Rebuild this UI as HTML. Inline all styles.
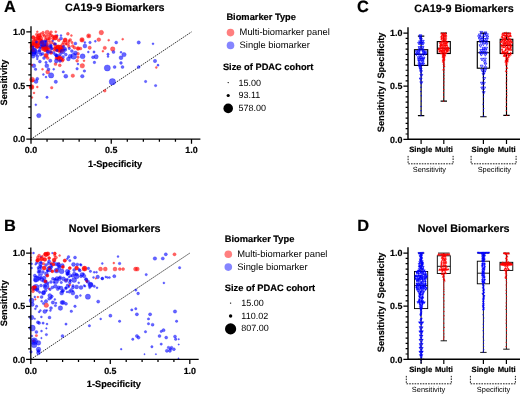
<!DOCTYPE html>
<html><head><meta charset="utf-8"><title>Biomarkers figure</title><style>
html,body{margin:0;padding:0;background:#fff}
svg{display:block}
text{font-family:"Liberation Sans",sans-serif;fill:#000;text-rendering:geometricPrecision}
.pl,.ti,.tk,.ax,.ax2,.lh,.gl{stroke:#000;stroke-width:0.18px}
.pl{font-size:16.4px;font-weight:bold}
.ti{font-size:10.8px;font-weight:bold}
.tk{font-size:8.9px;font-weight:bold}
.ax{font-size:9.2px;font-weight:bold}
.ax2{font-size:9.2px;font-weight:bold}
.lh{font-size:9.3px;font-weight:bold}
.lt{font-size:9.4px;fill:#000}
.ln{font-size:9.0px;fill:#000}
.gl{font-size:7.7px;font-weight:bold}
.gs{font-size:7.4px;fill:#000}
</style></head><body>
<svg width="520" height="394" viewBox="0 0 520 394">
<rect width="520" height="394" fill="#fff"/>
<text x="3.9" y="12.0" class="pl">A</text>
<text x="65" y="10.7" class="ti">CA19-9 Biomarkers</text>
<line x1="31.0" y1="139.1" x2="191.5" y2="31.9" stroke="#111" stroke-width="0.85" stroke-dasharray="1.5 0.9"/>
<circle cx="71.4" cy="35.6" r="1.0" fill="#ff0000" fill-opacity="0.6" stroke="#ff0000" stroke-opacity="0.5" stroke-width="0.5"/>
<circle cx="80.5" cy="48.5" r="1.5" fill="#ff0000" fill-opacity="0.6" stroke="#ff0000" stroke-opacity="0.5" stroke-width="0.5"/>
<circle cx="61.0" cy="35.6" r="1.0" fill="#0000ff" fill-opacity="0.6" stroke="#0000ff" stroke-opacity="0.5" stroke-width="0.5"/>
<circle cx="155.6" cy="85.6" r="1.2" fill="#0000ff" fill-opacity="0.6" stroke="#0000ff" stroke-opacity="0.5" stroke-width="0.5"/>
<circle cx="72.8" cy="46.0" r="1.5" fill="#ff0000" fill-opacity="0.6" stroke="#ff0000" stroke-opacity="0.5" stroke-width="0.5"/>
<circle cx="68.4" cy="58.9" r="2.0" fill="#0000ff" fill-opacity="0.6" stroke="#0000ff" stroke-opacity="0.5" stroke-width="0.5"/>
<circle cx="70.2" cy="56.3" r="2.0" fill="#0000ff" fill-opacity="0.6" stroke="#0000ff" stroke-opacity="0.5" stroke-width="0.5"/>
<circle cx="66.0" cy="44.0" r="1.2" fill="#ff0000" fill-opacity="0.6" stroke="#ff0000" stroke-opacity="0.5" stroke-width="0.5"/>
<circle cx="57.2" cy="57.2" r="2.0" fill="#ff0000" fill-opacity="0.6" stroke="#ff0000" stroke-opacity="0.5" stroke-width="0.5"/>
<circle cx="82.0" cy="39.9" r="2.3" fill="#ff0000" fill-opacity="0.6" stroke="#ff0000" stroke-opacity="0.5" stroke-width="0.5"/>
<circle cx="65.8" cy="54.6" r="1.5" fill="#0000ff" fill-opacity="0.6" stroke="#0000ff" stroke-opacity="0.5" stroke-width="0.5"/>
<circle cx="58.9" cy="48.5" r="3.5" fill="#ff0000" fill-opacity="0.6" stroke="#ff0000" stroke-opacity="0.5" stroke-width="0.5"/>
<circle cx="90.0" cy="42.5" r="1.3" fill="#0000ff" fill-opacity="0.6" stroke="#0000ff" stroke-opacity="0.5" stroke-width="0.5"/>
<circle cx="39.5" cy="50.6" r="1.5" fill="#0000ff" fill-opacity="0.6" stroke="#0000ff" stroke-opacity="0.5" stroke-width="0.5"/>
<circle cx="51.0" cy="48.3" r="1.5" fill="#0000ff" fill-opacity="0.6" stroke="#0000ff" stroke-opacity="0.5" stroke-width="0.5"/>
<circle cx="50.0" cy="47.0" r="1.5" fill="#ff0000" fill-opacity="0.6" stroke="#ff0000" stroke-opacity="0.5" stroke-width="0.5"/>
<circle cx="84.9" cy="42.5" r="1.0" fill="#0000ff" fill-opacity="0.6" stroke="#0000ff" stroke-opacity="0.5" stroke-width="0.5"/>
<circle cx="55.5" cy="64.1" r="1.5" fill="#ff0000" fill-opacity="0.6" stroke="#ff0000" stroke-opacity="0.5" stroke-width="0.5"/>
<circle cx="50.3" cy="60.7" r="1.7" fill="#0000ff" fill-opacity="0.6" stroke="#0000ff" stroke-opacity="0.5" stroke-width="0.5"/>
<circle cx="51.1" cy="42.5" r="2.0" fill="#ff0000" fill-opacity="0.6" stroke="#ff0000" stroke-opacity="0.5" stroke-width="0.5"/>
<circle cx="47.7" cy="58.0" r="1.5" fill="#ff0000" fill-opacity="0.6" stroke="#ff0000" stroke-opacity="0.5" stroke-width="0.5"/>
<circle cx="46.0" cy="77.1" r="1.0" fill="#0000ff" fill-opacity="0.6" stroke="#0000ff" stroke-opacity="0.5" stroke-width="0.5"/>
<circle cx="65.3" cy="39.9" r="2.0" fill="#ff0000" fill-opacity="0.6" stroke="#ff0000" stroke-opacity="0.5" stroke-width="0.5"/>
<circle cx="39.9" cy="61.5" r="1.5" fill="#0000ff" fill-opacity="0.6" stroke="#0000ff" stroke-opacity="0.5" stroke-width="0.5"/>
<circle cx="49.5" cy="38.5" r="1.6" fill="#ff0000" fill-opacity="0.6" stroke="#ff0000" stroke-opacity="0.5" stroke-width="0.5"/>
<circle cx="138.7" cy="67.0" r="1.5" fill="#0000ff" fill-opacity="0.6" stroke="#0000ff" stroke-opacity="0.5" stroke-width="0.5"/>
<circle cx="40.8" cy="54.6" r="1.5" fill="#0000ff" fill-opacity="0.6" stroke="#0000ff" stroke-opacity="0.5" stroke-width="0.5"/>
<circle cx="108.7" cy="40.2" r="1.0" fill="#ff0000" fill-opacity="0.6" stroke="#ff0000" stroke-opacity="0.5" stroke-width="0.5"/>
<circle cx="36.0" cy="81.5" r="2.0" fill="#0000ff" fill-opacity="0.6" stroke="#0000ff" stroke-opacity="0.5" stroke-width="0.5"/>
<circle cx="60.5" cy="47.5" r="2.2" fill="#ff0000" fill-opacity="0.6" stroke="#ff0000" stroke-opacity="0.5" stroke-width="0.5"/>
<circle cx="32.0" cy="47.5" r="2.0" fill="#ff0000" fill-opacity="0.6" stroke="#ff0000" stroke-opacity="0.5" stroke-width="0.5"/>
<circle cx="78.0" cy="53.7" r="1.5" fill="#ff0000" fill-opacity="0.6" stroke="#ff0000" stroke-opacity="0.5" stroke-width="0.5"/>
<circle cx="67.9" cy="33.8" r="1.5" fill="#ff0000" fill-opacity="0.6" stroke="#ff0000" stroke-opacity="0.5" stroke-width="0.5"/>
<circle cx="112.7" cy="49.0" r="2.3" fill="#ff0000" fill-opacity="0.6" stroke="#ff0000" stroke-opacity="0.5" stroke-width="0.5"/>
<circle cx="78.0" cy="64.1" r="1.0" fill="#0000ff" fill-opacity="0.6" stroke="#0000ff" stroke-opacity="0.5" stroke-width="0.5"/>
<circle cx="47.7" cy="37.3" r="2.5" fill="#ff0000" fill-opacity="0.6" stroke="#ff0000" stroke-opacity="0.5" stroke-width="0.5"/>
<circle cx="108.0" cy="56.5" r="1.0" fill="#0000ff" fill-opacity="0.6" stroke="#0000ff" stroke-opacity="0.5" stroke-width="0.5"/>
<circle cx="94.4" cy="62.4" r="1.3" fill="#0000ff" fill-opacity="0.6" stroke="#0000ff" stroke-opacity="0.5" stroke-width="0.5"/>
<circle cx="39.0" cy="36.4" r="2.5" fill="#ff0000" fill-opacity="0.6" stroke="#ff0000" stroke-opacity="0.5" stroke-width="0.5"/>
<circle cx="50.0" cy="34.0" r="1.2" fill="#ff0000" fill-opacity="0.6" stroke="#ff0000" stroke-opacity="0.5" stroke-width="0.5"/>
<circle cx="104.8" cy="90.8" r="1.4" fill="#ff0000" fill-opacity="0.6" stroke="#ff0000" stroke-opacity="0.5" stroke-width="0.5"/>
<circle cx="69.0" cy="46.5" r="1.5" fill="#ff0000" fill-opacity="0.6" stroke="#ff0000" stroke-opacity="0.5" stroke-width="0.5"/>
<circle cx="36.5" cy="34.5" r="1.2" fill="#ff0000" fill-opacity="0.6" stroke="#ff0000" stroke-opacity="0.5" stroke-width="0.5"/>
<circle cx="36.0" cy="54.0" r="1.5" fill="#0000ff" fill-opacity="0.6" stroke="#0000ff" stroke-opacity="0.5" stroke-width="0.5"/>
<circle cx="48.0" cy="40.5" r="1.8" fill="#ff0000" fill-opacity="0.6" stroke="#ff0000" stroke-opacity="0.5" stroke-width="0.5"/>
<circle cx="78.0" cy="48.5" r="2.0" fill="#ff0000" fill-opacity="0.6" stroke="#ff0000" stroke-opacity="0.5" stroke-width="0.5"/>
<circle cx="63.3" cy="71.9" r="1.2" fill="#0000ff" fill-opacity="0.6" stroke="#0000ff" stroke-opacity="0.5" stroke-width="0.5"/>
<circle cx="37.3" cy="46.0" r="2.5" fill="#ff0000" fill-opacity="0.6" stroke="#ff0000" stroke-opacity="0.5" stroke-width="0.5"/>
<circle cx="98.8" cy="39.6" r="1.9" fill="#ff0000" fill-opacity="0.6" stroke="#ff0000" stroke-opacity="0.5" stroke-width="0.5"/>
<circle cx="32.5" cy="80.5" r="1.2" fill="#ff0000" fill-opacity="0.6" stroke="#ff0000" stroke-opacity="0.5" stroke-width="0.5"/>
<circle cx="39.2" cy="35.2" r="2.0" fill="#ff0000" fill-opacity="0.6" stroke="#ff0000" stroke-opacity="0.5" stroke-width="0.5"/>
<circle cx="31.5" cy="87.0" r="2.5" fill="#ff0000" fill-opacity="0.6" stroke="#ff0000" stroke-opacity="0.5" stroke-width="0.5"/>
<circle cx="84.9" cy="46.0" r="2.0" fill="#0000ff" fill-opacity="0.6" stroke="#0000ff" stroke-opacity="0.5" stroke-width="0.5"/>
<circle cx="40.3" cy="38.3" r="2.5" fill="#ff0000" fill-opacity="0.6" stroke="#ff0000" stroke-opacity="0.5" stroke-width="0.5"/>
<circle cx="51.1" cy="52.0" r="1.5" fill="#ff0000" fill-opacity="0.6" stroke="#ff0000" stroke-opacity="0.5" stroke-width="0.5"/>
<circle cx="116.2" cy="42.5" r="1.5" fill="#0000ff" fill-opacity="0.6" stroke="#0000ff" stroke-opacity="0.5" stroke-width="0.5"/>
<circle cx="45.5" cy="39.5" r="1.6" fill="#ff0000" fill-opacity="0.6" stroke="#ff0000" stroke-opacity="0.5" stroke-width="0.5"/>
<circle cx="45.0" cy="48.5" r="3.0" fill="#ff0000" fill-opacity="0.6" stroke="#ff0000" stroke-opacity="0.5" stroke-width="0.5"/>
<circle cx="44.0" cy="46.5" r="2.2" fill="#ff0000" fill-opacity="0.6" stroke="#ff0000" stroke-opacity="0.5" stroke-width="0.5"/>
<circle cx="38.8" cy="115.6" r="2.2" fill="#0000ff" fill-opacity="0.6" stroke="#0000ff" stroke-opacity="0.5" stroke-width="0.5"/>
<circle cx="82.3" cy="65.8" r="2.3" fill="#ff0000" fill-opacity="0.6" stroke="#ff0000" stroke-opacity="0.5" stroke-width="0.5"/>
<circle cx="33.4" cy="37.5" r="2.0" fill="#ff0000" fill-opacity="0.6" stroke="#ff0000" stroke-opacity="0.5" stroke-width="0.5"/>
<circle cx="156.3" cy="67.5" r="1.0" fill="#ff0000" fill-opacity="0.6" stroke="#ff0000" stroke-opacity="0.5" stroke-width="0.5"/>
<circle cx="56.5" cy="58.5" r="1.6" fill="#ff0000" fill-opacity="0.6" stroke="#ff0000" stroke-opacity="0.5" stroke-width="0.5"/>
<circle cx="75.4" cy="52.9" r="2.0" fill="#0000ff" fill-opacity="0.6" stroke="#0000ff" stroke-opacity="0.5" stroke-width="0.5"/>
<circle cx="155.0" cy="61.0" r="1.7" fill="#0000ff" fill-opacity="0.6" stroke="#0000ff" stroke-opacity="0.5" stroke-width="0.5"/>
<circle cx="55.7" cy="54.8" r="1.5" fill="#0000ff" fill-opacity="0.6" stroke="#0000ff" stroke-opacity="0.5" stroke-width="0.5"/>
<circle cx="50.3" cy="46.0" r="2.0" fill="#0000ff" fill-opacity="0.6" stroke="#0000ff" stroke-opacity="0.5" stroke-width="0.5"/>
<circle cx="46.0" cy="55.5" r="1.5" fill="#ff0000" fill-opacity="0.6" stroke="#ff0000" stroke-opacity="0.5" stroke-width="0.5"/>
<circle cx="47.0" cy="97.3" r="1.2" fill="#0000ff" fill-opacity="0.6" stroke="#0000ff" stroke-opacity="0.5" stroke-width="0.5"/>
<circle cx="47.0" cy="49.5" r="2.0" fill="#ff0000" fill-opacity="0.6" stroke="#ff0000" stroke-opacity="0.5" stroke-width="0.5"/>
<circle cx="47.2" cy="32.5" r="2.3" fill="#ff0000" fill-opacity="0.6" stroke="#ff0000" stroke-opacity="0.5" stroke-width="0.5"/>
<circle cx="32.1" cy="79.7" r="2.5" fill="#ff0000" fill-opacity="0.6" stroke="#ff0000" stroke-opacity="0.5" stroke-width="0.5"/>
<circle cx="94.0" cy="52.0" r="1.2" fill="#0000ff" fill-opacity="0.6" stroke="#0000ff" stroke-opacity="0.5" stroke-width="0.5"/>
<circle cx="43.0" cy="32.5" r="1.3" fill="#ff0000" fill-opacity="0.6" stroke="#ff0000" stroke-opacity="0.5" stroke-width="0.5"/>
<circle cx="46.5" cy="46.5" r="2.0" fill="#0000ff" fill-opacity="0.6" stroke="#0000ff" stroke-opacity="0.5" stroke-width="0.5"/>
<circle cx="58.5" cy="58.0" r="2.0" fill="#ff0000" fill-opacity="0.6" stroke="#ff0000" stroke-opacity="0.5" stroke-width="0.5"/>
<circle cx="60.0" cy="57.0" r="1.5" fill="#ff0000" fill-opacity="0.6" stroke="#ff0000" stroke-opacity="0.5" stroke-width="0.5"/>
<circle cx="31.8" cy="53.0" r="1.5" fill="#ff0000" fill-opacity="0.6" stroke="#ff0000" stroke-opacity="0.5" stroke-width="0.5"/>
<circle cx="37.3" cy="87.0" r="1.0" fill="#ff0000" fill-opacity="0.6" stroke="#ff0000" stroke-opacity="0.5" stroke-width="0.5"/>
<circle cx="47.7" cy="71.9" r="2.0" fill="#ff0000" fill-opacity="0.6" stroke="#ff0000" stroke-opacity="0.5" stroke-width="0.5"/>
<circle cx="33.8" cy="51.1" r="3.0" fill="#0000ff" fill-opacity="0.6" stroke="#0000ff" stroke-opacity="0.5" stroke-width="0.5"/>
<circle cx="60.0" cy="54.5" r="1.5" fill="#0000ff" fill-opacity="0.6" stroke="#0000ff" stroke-opacity="0.5" stroke-width="0.5"/>
<circle cx="51.1" cy="75.4" r="2.7" fill="#0000ff" fill-opacity="0.6" stroke="#0000ff" stroke-opacity="0.5" stroke-width="0.5"/>
<circle cx="55.5" cy="46.5" r="1.6" fill="#ff0000" fill-opacity="0.6" stroke="#ff0000" stroke-opacity="0.5" stroke-width="0.5"/>
<circle cx="44.5" cy="36.0" r="1.5" fill="#ff0000" fill-opacity="0.6" stroke="#ff0000" stroke-opacity="0.5" stroke-width="0.5"/>
<circle cx="61.5" cy="50.3" r="2.5" fill="#ff0000" fill-opacity="0.6" stroke="#ff0000" stroke-opacity="0.5" stroke-width="0.5"/>
<circle cx="65.8" cy="76.2" r="2.0" fill="#0000ff" fill-opacity="0.6" stroke="#0000ff" stroke-opacity="0.5" stroke-width="0.5"/>
<circle cx="63.5" cy="42.5" r="1.5" fill="#ff0000" fill-opacity="0.6" stroke="#ff0000" stroke-opacity="0.5" stroke-width="0.5"/>
<circle cx="31.6" cy="46.0" r="1.5" fill="#ff0000" fill-opacity="0.6" stroke="#ff0000" stroke-opacity="0.5" stroke-width="0.5"/>
<circle cx="42.5" cy="69.3" r="1.0" fill="#ff0000" fill-opacity="0.6" stroke="#ff0000" stroke-opacity="0.5" stroke-width="0.5"/>
<circle cx="74.5" cy="47.7" r="1.5" fill="#ff0000" fill-opacity="0.6" stroke="#ff0000" stroke-opacity="0.5" stroke-width="0.5"/>
<circle cx="55.8" cy="81.8" r="1.7" fill="#0000ff" fill-opacity="0.6" stroke="#0000ff" stroke-opacity="0.5" stroke-width="0.5"/>
<circle cx="63.0" cy="59.5" r="1.5" fill="#ff0000" fill-opacity="0.6" stroke="#ff0000" stroke-opacity="0.5" stroke-width="0.5"/>
<circle cx="36.0" cy="39.0" r="2.0" fill="#ff0000" fill-opacity="0.6" stroke="#ff0000" stroke-opacity="0.5" stroke-width="0.5"/>
<circle cx="70.2" cy="39.9" r="1.5" fill="#ff0000" fill-opacity="0.6" stroke="#ff0000" stroke-opacity="0.5" stroke-width="0.5"/>
<circle cx="33.8" cy="65.8" r="2.0" fill="#0000ff" fill-opacity="0.6" stroke="#0000ff" stroke-opacity="0.5" stroke-width="0.5"/>
<circle cx="112.4" cy="81.7" r="3.2" fill="#0000ff" fill-opacity="0.6" stroke="#0000ff" stroke-opacity="0.5" stroke-width="0.5"/>
<circle cx="39.0" cy="52.0" r="2.0" fill="#0000ff" fill-opacity="0.6" stroke="#0000ff" stroke-opacity="0.5" stroke-width="0.5"/>
<circle cx="158.0" cy="65.2" r="1.1" fill="#0000ff" fill-opacity="0.6" stroke="#0000ff" stroke-opacity="0.5" stroke-width="0.5"/>
<circle cx="56.5" cy="49.5" r="2.0" fill="#ff0000" fill-opacity="0.6" stroke="#ff0000" stroke-opacity="0.5" stroke-width="0.5"/>
<circle cx="122.5" cy="67.0" r="1.5" fill="#0000ff" fill-opacity="0.6" stroke="#0000ff" stroke-opacity="0.5" stroke-width="0.5"/>
<circle cx="52.9" cy="40.8" r="1.0" fill="#0000ff" fill-opacity="0.6" stroke="#0000ff" stroke-opacity="0.5" stroke-width="0.5"/>
<circle cx="46.5" cy="48.0" r="2.2" fill="#ff0000" fill-opacity="0.6" stroke="#ff0000" stroke-opacity="0.5" stroke-width="0.5"/>
<circle cx="82.0" cy="39.9" r="1.5" fill="#ff0000" fill-opacity="0.6" stroke="#ff0000" stroke-opacity="0.5" stroke-width="0.5"/>
<circle cx="41.0" cy="40.5" r="1.6" fill="#ff0000" fill-opacity="0.6" stroke="#ff0000" stroke-opacity="0.5" stroke-width="0.5"/>
<circle cx="82.3" cy="76.2" r="1.8" fill="#0000ff" fill-opacity="0.6" stroke="#0000ff" stroke-opacity="0.5" stroke-width="0.5"/>
<circle cx="121.0" cy="52.3" r="1.0" fill="#0000ff" fill-opacity="0.6" stroke="#0000ff" stroke-opacity="0.5" stroke-width="0.5"/>
<circle cx="88.3" cy="52.0" r="1.0" fill="#0000ff" fill-opacity="0.6" stroke="#0000ff" stroke-opacity="0.5" stroke-width="0.5"/>
<circle cx="153.0" cy="43.8" r="1.0" fill="#0000ff" fill-opacity="0.6" stroke="#0000ff" stroke-opacity="0.5" stroke-width="0.5"/>
<circle cx="57.5" cy="47.5" r="2.0" fill="#ff0000" fill-opacity="0.6" stroke="#ff0000" stroke-opacity="0.5" stroke-width="0.5"/>
<circle cx="55.0" cy="48.3" r="1.5" fill="#ff0000" fill-opacity="0.6" stroke="#ff0000" stroke-opacity="0.5" stroke-width="0.5"/>
<circle cx="84.4" cy="71.0" r="1.3" fill="#0000ff" fill-opacity="0.6" stroke="#0000ff" stroke-opacity="0.5" stroke-width="0.5"/>
<circle cx="61.0" cy="38.5" r="1.6" fill="#0000ff" fill-opacity="0.6" stroke="#0000ff" stroke-opacity="0.5" stroke-width="0.5"/>
<circle cx="53.0" cy="38.5" r="1.5" fill="#ff0000" fill-opacity="0.6" stroke="#ff0000" stroke-opacity="0.5" stroke-width="0.5"/>
<circle cx="37.3" cy="31.8" r="1.0" fill="#ff0000" fill-opacity="0.6" stroke="#ff0000" stroke-opacity="0.5" stroke-width="0.5"/>
<circle cx="121.0" cy="57.7" r="2.0" fill="#0000ff" fill-opacity="0.6" stroke="#0000ff" stroke-opacity="0.5" stroke-width="0.5"/>
<circle cx="55.8" cy="31.8" r="1.1" fill="#ff0000" fill-opacity="0.6" stroke="#ff0000" stroke-opacity="0.5" stroke-width="0.5"/>
<circle cx="39.9" cy="40.8" r="2.5" fill="#ff0000" fill-opacity="0.6" stroke="#ff0000" stroke-opacity="0.5" stroke-width="0.5"/>
<circle cx="71.9" cy="51.1" r="1.5" fill="#0000ff" fill-opacity="0.6" stroke="#0000ff" stroke-opacity="0.5" stroke-width="0.5"/>
<circle cx="108.0" cy="54.2" r="1.2" fill="#0000ff" fill-opacity="0.6" stroke="#0000ff" stroke-opacity="0.5" stroke-width="0.5"/>
<circle cx="60.0" cy="49.5" r="2.0" fill="#ff0000" fill-opacity="0.6" stroke="#ff0000" stroke-opacity="0.5" stroke-width="0.5"/>
<circle cx="62.4" cy="60.7" r="1.5" fill="#ff0000" fill-opacity="0.6" stroke="#ff0000" stroke-opacity="0.5" stroke-width="0.5"/>
<circle cx="78.0" cy="57.2" r="1.3" fill="#ff0000" fill-opacity="0.6" stroke="#ff0000" stroke-opacity="0.5" stroke-width="0.5"/>
<circle cx="114.6" cy="67.0" r="1.5" fill="#0000ff" fill-opacity="0.6" stroke="#0000ff" stroke-opacity="0.5" stroke-width="0.5"/>
<circle cx="48.5" cy="49.5" r="1.8" fill="#ff0000" fill-opacity="0.6" stroke="#ff0000" stroke-opacity="0.5" stroke-width="0.5"/>
<circle cx="59.8" cy="65.3" r="1.5" fill="#ff0000" fill-opacity="0.6" stroke="#ff0000" stroke-opacity="0.5" stroke-width="0.5"/>
<circle cx="37.3" cy="58.9" r="1.0" fill="#0000ff" fill-opacity="0.6" stroke="#0000ff" stroke-opacity="0.5" stroke-width="0.5"/>
<circle cx="35.8" cy="104.8" r="1.0" fill="#0000ff" fill-opacity="0.6" stroke="#0000ff" stroke-opacity="0.5" stroke-width="0.5"/>
<circle cx="57.2" cy="35.6" r="1.0" fill="#0000ff" fill-opacity="0.6" stroke="#0000ff" stroke-opacity="0.5" stroke-width="0.5"/>
<circle cx="89.7" cy="47.7" r="1.7" fill="#ff0000" fill-opacity="0.6" stroke="#ff0000" stroke-opacity="0.5" stroke-width="0.5"/>
<circle cx="33.0" cy="56.3" r="2.0" fill="#0000ff" fill-opacity="0.6" stroke="#0000ff" stroke-opacity="0.5" stroke-width="0.5"/>
<circle cx="41.5" cy="46.5" r="1.5" fill="#0000ff" fill-opacity="0.6" stroke="#0000ff" stroke-opacity="0.5" stroke-width="0.5"/>
<circle cx="77.1" cy="68.8" r="1.3" fill="#0000ff" fill-opacity="0.6" stroke="#0000ff" stroke-opacity="0.5" stroke-width="0.5"/>
<circle cx="101.3" cy="32.6" r="2.3" fill="#ff0000" fill-opacity="0.6" stroke="#ff0000" stroke-opacity="0.5" stroke-width="0.5"/>
<circle cx="45.5" cy="50.0" r="2.0" fill="#ff0000" fill-opacity="0.6" stroke="#ff0000" stroke-opacity="0.5" stroke-width="0.5"/>
<circle cx="33.0" cy="52.9" r="3.0" fill="#0000ff" fill-opacity="0.6" stroke="#0000ff" stroke-opacity="0.5" stroke-width="0.5"/>
<circle cx="88.7" cy="35.9" r="1.0" fill="#ff0000" fill-opacity="0.6" stroke="#ff0000" stroke-opacity="0.5" stroke-width="0.5"/>
<circle cx="48.5" cy="69.3" r="1.5" fill="#0000ff" fill-opacity="0.6" stroke="#0000ff" stroke-opacity="0.5" stroke-width="0.5"/>
<circle cx="122.7" cy="39.2" r="1.0" fill="#ff0000" fill-opacity="0.6" stroke="#ff0000" stroke-opacity="0.5" stroke-width="0.5"/>
<circle cx="55.0" cy="38.0" r="2.2" fill="#ff0000" fill-opacity="0.6" stroke="#ff0000" stroke-opacity="0.5" stroke-width="0.5"/>
<circle cx="44.2" cy="44.2" r="3.5" fill="#0000ff" fill-opacity="0.6" stroke="#0000ff" stroke-opacity="0.5" stroke-width="0.5"/>
<circle cx="59.5" cy="50.5" r="2.2" fill="#ff0000" fill-opacity="0.6" stroke="#ff0000" stroke-opacity="0.5" stroke-width="0.5"/>
<circle cx="104.8" cy="47.9" r="1.7" fill="#ff0000" fill-opacity="0.6" stroke="#ff0000" stroke-opacity="0.5" stroke-width="0.5"/>
<circle cx="84.0" cy="60.7" r="1.0" fill="#ff0000" fill-opacity="0.6" stroke="#ff0000" stroke-opacity="0.5" stroke-width="0.5"/>
<circle cx="63.0" cy="57.0" r="1.5" fill="#0000ff" fill-opacity="0.6" stroke="#0000ff" stroke-opacity="0.5" stroke-width="0.5"/>
<circle cx="62.6" cy="45.2" r="2.0" fill="#ff0000" fill-opacity="0.6" stroke="#ff0000" stroke-opacity="0.5" stroke-width="0.5"/>
<circle cx="96.1" cy="56.7" r="2.2" fill="#0000ff" fill-opacity="0.6" stroke="#0000ff" stroke-opacity="0.5" stroke-width="0.5"/>
<circle cx="95.3" cy="41.3" r="1.0" fill="#0000ff" fill-opacity="0.6" stroke="#0000ff" stroke-opacity="0.5" stroke-width="0.5"/>
<circle cx="58.8" cy="40.2" r="1.5" fill="#ff0000" fill-opacity="0.6" stroke="#ff0000" stroke-opacity="0.5" stroke-width="0.5"/>
<circle cx="33.0" cy="45.5" r="2.0" fill="#ff0000" fill-opacity="0.6" stroke="#ff0000" stroke-opacity="0.5" stroke-width="0.5"/>
<circle cx="61.0" cy="59.0" r="2.0" fill="#ff0000" fill-opacity="0.6" stroke="#ff0000" stroke-opacity="0.5" stroke-width="0.5"/>
<circle cx="51.7" cy="87.7" r="1.3" fill="#ff0000" fill-opacity="0.6" stroke="#ff0000" stroke-opacity="0.5" stroke-width="0.5"/>
<circle cx="107.3" cy="68.0" r="3.1" fill="#0000ff" fill-opacity="0.6" stroke="#0000ff" stroke-opacity="0.5" stroke-width="0.5"/>
<circle cx="77.1" cy="60.7" r="1.5" fill="#ff0000" fill-opacity="0.6" stroke="#ff0000" stroke-opacity="0.5" stroke-width="0.5"/>
<circle cx="48.0" cy="53.0" r="1.5" fill="#0000ff" fill-opacity="0.6" stroke="#0000ff" stroke-opacity="0.5" stroke-width="0.5"/>
<circle cx="43.4" cy="74.5" r="1.0" fill="#0000ff" fill-opacity="0.6" stroke="#0000ff" stroke-opacity="0.5" stroke-width="0.5"/>
<circle cx="35.0" cy="44.5" r="2.2" fill="#ff0000" fill-opacity="0.6" stroke="#ff0000" stroke-opacity="0.5" stroke-width="0.5"/>
<circle cx="32.0" cy="44.0" r="2.0" fill="#ff0000" fill-opacity="0.6" stroke="#ff0000" stroke-opacity="0.5" stroke-width="0.5"/>
<circle cx="37.3" cy="56.3" r="1.5" fill="#0000ff" fill-opacity="0.6" stroke="#0000ff" stroke-opacity="0.5" stroke-width="0.5"/>
<circle cx="45.7" cy="48.3" r="2.0" fill="#ff0000" fill-opacity="0.6" stroke="#ff0000" stroke-opacity="0.5" stroke-width="0.5"/>
<circle cx="33.4" cy="50.6" r="1.5" fill="#ff0000" fill-opacity="0.6" stroke="#ff0000" stroke-opacity="0.5" stroke-width="0.5"/>
<circle cx="53.7" cy="69.3" r="1.0" fill="#0000ff" fill-opacity="0.6" stroke="#0000ff" stroke-opacity="0.5" stroke-width="0.5"/>
<circle cx="65.0" cy="40.2" r="2.0" fill="#ff0000" fill-opacity="0.6" stroke="#ff0000" stroke-opacity="0.5" stroke-width="0.5"/>
<circle cx="35.6" cy="69.3" r="1.3" fill="#0000ff" fill-opacity="0.6" stroke="#0000ff" stroke-opacity="0.5" stroke-width="0.5"/>
<circle cx="34.7" cy="41.6" r="2.5" fill="#ff0000" fill-opacity="0.6" stroke="#ff0000" stroke-opacity="0.5" stroke-width="0.5"/>
<circle cx="46.0" cy="55.5" r="2.2" fill="#ff0000" fill-opacity="0.6" stroke="#ff0000" stroke-opacity="0.5" stroke-width="0.5"/>
<circle cx="58.0" cy="47.0" r="2.2" fill="#ff0000" fill-opacity="0.6" stroke="#ff0000" stroke-opacity="0.5" stroke-width="0.5"/>
<circle cx="69.0" cy="41.0" r="1.2" fill="#ff0000" fill-opacity="0.6" stroke="#ff0000" stroke-opacity="0.5" stroke-width="0.5"/>
<circle cx="59.8" cy="58.9" r="2.5" fill="#ff0000" fill-opacity="0.6" stroke="#ff0000" stroke-opacity="0.5" stroke-width="0.5"/>
<circle cx="56.0" cy="36.5" r="1.5" fill="#ff0000" fill-opacity="0.6" stroke="#ff0000" stroke-opacity="0.5" stroke-width="0.5"/>
<circle cx="93.0" cy="57.2" r="1.5" fill="#0000ff" fill-opacity="0.6" stroke="#0000ff" stroke-opacity="0.5" stroke-width="0.5"/>
<circle cx="43.5" cy="47.0" r="2.0" fill="#ff0000" fill-opacity="0.6" stroke="#ff0000" stroke-opacity="0.5" stroke-width="0.5"/>
<circle cx="41.0" cy="33.5" r="1.0" fill="#ff0000" fill-opacity="0.6" stroke="#ff0000" stroke-opacity="0.5" stroke-width="0.5"/>
<circle cx="51.1" cy="35.6" r="1.5" fill="#ff0000" fill-opacity="0.6" stroke="#ff0000" stroke-opacity="0.5" stroke-width="0.5"/>
<circle cx="138.7" cy="42.5" r="1.7" fill="#0000ff" fill-opacity="0.6" stroke="#0000ff" stroke-opacity="0.5" stroke-width="0.5"/>
<circle cx="46.8" cy="65.8" r="2.0" fill="#0000ff" fill-opacity="0.6" stroke="#0000ff" stroke-opacity="0.5" stroke-width="0.5"/>
<circle cx="113.5" cy="52.0" r="1.5" fill="#0000ff" fill-opacity="0.6" stroke="#0000ff" stroke-opacity="0.5" stroke-width="0.5"/>
<circle cx="56.3" cy="61.0" r="2.0" fill="#0000ff" fill-opacity="0.6" stroke="#0000ff" stroke-opacity="0.5" stroke-width="0.5"/>
<circle cx="34.2" cy="42.5" r="2.5" fill="#ff0000" fill-opacity="0.6" stroke="#ff0000" stroke-opacity="0.5" stroke-width="0.5"/>
<circle cx="32.0" cy="50.0" r="1.6" fill="#ff0000" fill-opacity="0.6" stroke="#ff0000" stroke-opacity="0.5" stroke-width="0.5"/>
<circle cx="56.3" cy="55.5" r="1.5" fill="#0000ff" fill-opacity="0.6" stroke="#0000ff" stroke-opacity="0.5" stroke-width="0.5"/>
<circle cx="42.5" cy="48.5" r="2.0" fill="#ff0000" fill-opacity="0.6" stroke="#ff0000" stroke-opacity="0.5" stroke-width="0.5"/>
<circle cx="54.2" cy="43.7" r="1.2" fill="#0000ff" fill-opacity="0.6" stroke="#0000ff" stroke-opacity="0.5" stroke-width="0.5"/>
<circle cx="38.5" cy="43.0" r="2.0" fill="#ff0000" fill-opacity="0.6" stroke="#ff0000" stroke-opacity="0.5" stroke-width="0.5"/>
<circle cx="82.6" cy="56.3" r="2.5" fill="#0000ff" fill-opacity="0.6" stroke="#0000ff" stroke-opacity="0.5" stroke-width="0.5"/>
<circle cx="43.4" cy="34.7" r="1.3" fill="#ff0000" fill-opacity="0.6" stroke="#ff0000" stroke-opacity="0.5" stroke-width="0.5"/>
<circle cx="72.8" cy="75.7" r="1.8" fill="#ff0000" fill-opacity="0.6" stroke="#ff0000" stroke-opacity="0.5" stroke-width="0.5"/>
<circle cx="55.5" cy="37.3" r="2.5" fill="#ff0000" fill-opacity="0.6" stroke="#ff0000" stroke-opacity="0.5" stroke-width="0.5"/>
<circle cx="52.5" cy="36.0" r="1.3" fill="#ff0000" fill-opacity="0.6" stroke="#ff0000" stroke-opacity="0.5" stroke-width="0.5"/>
<circle cx="121.0" cy="63.0" r="1.4" fill="#0000ff" fill-opacity="0.6" stroke="#0000ff" stroke-opacity="0.5" stroke-width="0.5"/>
<circle cx="78.0" cy="48.5" r="1.2" fill="#ff0000" fill-opacity="0.6" stroke="#ff0000" stroke-opacity="0.5" stroke-width="0.5"/>
<circle cx="42.0" cy="42.0" r="2.0" fill="#ff0000" fill-opacity="0.6" stroke="#ff0000" stroke-opacity="0.5" stroke-width="0.5"/>
<circle cx="43.0" cy="43.5" r="1.5" fill="#ff0000" fill-opacity="0.6" stroke="#ff0000" stroke-opacity="0.5" stroke-width="0.5"/>
<circle cx="62.5" cy="49.0" r="2.0" fill="#ff0000" fill-opacity="0.6" stroke="#ff0000" stroke-opacity="0.5" stroke-width="0.5"/>
<circle cx="31.8" cy="65.0" r="1.0" fill="#ff0000" fill-opacity="0.6" stroke="#ff0000" stroke-opacity="0.5" stroke-width="0.5"/>
<circle cx="54.6" cy="44.2" r="1.5" fill="#ff0000" fill-opacity="0.6" stroke="#ff0000" stroke-opacity="0.5" stroke-width="0.5"/>
<circle cx="37.0" cy="46.5" r="2.0" fill="#ff0000" fill-opacity="0.6" stroke="#ff0000" stroke-opacity="0.5" stroke-width="0.5"/>
<circle cx="34.0" cy="92.9" r="1.0" fill="#ff0000" fill-opacity="0.6" stroke="#ff0000" stroke-opacity="0.5" stroke-width="0.5"/>
<circle cx="38.0" cy="38.0" r="2.2" fill="#ff0000" fill-opacity="0.6" stroke="#ff0000" stroke-opacity="0.5" stroke-width="0.5"/>
<circle cx="124.0" cy="54.6" r="2.2" fill="#0000ff" fill-opacity="0.6" stroke="#0000ff" stroke-opacity="0.5" stroke-width="0.5"/>
<circle cx="32.0" cy="97.5" r="1.0" fill="#ff0000" fill-opacity="0.6" stroke="#ff0000" stroke-opacity="0.5" stroke-width="0.5"/>
<circle cx="37.3" cy="78.8" r="1.5" fill="#0000ff" fill-opacity="0.6" stroke="#0000ff" stroke-opacity="0.5" stroke-width="0.5"/>
<circle cx="72.0" cy="42.5" r="1.2" fill="#ff0000" fill-opacity="0.6" stroke="#ff0000" stroke-opacity="0.5" stroke-width="0.5"/>
<circle cx="54.6" cy="49.4" r="2.0" fill="#ff0000" fill-opacity="0.6" stroke="#ff0000" stroke-opacity="0.5" stroke-width="0.5"/>
<circle cx="42.5" cy="53.7" r="1.5" fill="#0000ff" fill-opacity="0.6" stroke="#0000ff" stroke-opacity="0.5" stroke-width="0.5"/>
<circle cx="47.0" cy="44.0" r="1.8" fill="#ff0000" fill-opacity="0.6" stroke="#ff0000" stroke-opacity="0.5" stroke-width="0.5"/>
<circle cx="44.0" cy="58.0" r="1.5" fill="#0000ff" fill-opacity="0.6" stroke="#0000ff" stroke-opacity="0.5" stroke-width="0.5"/>
<circle cx="145.6" cy="81.5" r="1.2" fill="#0000ff" fill-opacity="0.6" stroke="#0000ff" stroke-opacity="0.5" stroke-width="0.5"/>
<circle cx="67.6" cy="43.4" r="2.0" fill="#ff0000" fill-opacity="0.6" stroke="#ff0000" stroke-opacity="0.5" stroke-width="0.5"/>
<circle cx="53.7" cy="52.9" r="1.5" fill="#0000ff" fill-opacity="0.6" stroke="#0000ff" stroke-opacity="0.5" stroke-width="0.5"/>
<circle cx="73.6" cy="56.3" r="3.0" fill="#0000ff" fill-opacity="0.6" stroke="#0000ff" stroke-opacity="0.5" stroke-width="0.5"/>
<circle cx="65.0" cy="48.5" r="1.5" fill="#0000ff" fill-opacity="0.6" stroke="#0000ff" stroke-opacity="0.5" stroke-width="0.5"/>
<circle cx="51.1" cy="32.1" r="1.4" fill="#ff0000" fill-opacity="0.6" stroke="#ff0000" stroke-opacity="0.5" stroke-width="0.5"/>
<circle cx="51.0" cy="52.9" r="1.5" fill="#ff0000" fill-opacity="0.6" stroke="#ff0000" stroke-opacity="0.5" stroke-width="0.5"/>
<circle cx="88.7" cy="35.9" r="2.2" fill="#ff0000" fill-opacity="0.6" stroke="#ff0000" stroke-opacity="0.5" stroke-width="0.5"/>
<circle cx="38.0" cy="45.2" r="2.5" fill="#ff0000" fill-opacity="0.6" stroke="#ff0000" stroke-opacity="0.5" stroke-width="0.5"/>
<circle cx="31.5" cy="87.0" r="1.8" fill="#ff0000" fill-opacity="0.6" stroke="#ff0000" stroke-opacity="0.5" stroke-width="0.5"/>
<circle cx="69.3" cy="48.5" r="1.2" fill="#0000ff" fill-opacity="0.6" stroke="#0000ff" stroke-opacity="0.5" stroke-width="0.5"/>
<circle cx="50.3" cy="51.8" r="1.5" fill="#0000ff" fill-opacity="0.6" stroke="#0000ff" stroke-opacity="0.5" stroke-width="0.5"/>
<circle cx="46.0" cy="62.4" r="1.2" fill="#0000ff" fill-opacity="0.6" stroke="#0000ff" stroke-opacity="0.5" stroke-width="0.5"/>
<circle cx="102.9" cy="51.2" r="1.0" fill="#ff0000" fill-opacity="0.6" stroke="#ff0000" stroke-opacity="0.5" stroke-width="0.5"/>
<circle cx="33.0" cy="37.3" r="1.5" fill="#ff0000" fill-opacity="0.6" stroke="#ff0000" stroke-opacity="0.5" stroke-width="0.5"/>
<circle cx="62.6" cy="51.4" r="2.5" fill="#0000ff" fill-opacity="0.6" stroke="#0000ff" stroke-opacity="0.5" stroke-width="0.5"/>
<circle cx="75.4" cy="43.4" r="1.5" fill="#0000ff" fill-opacity="0.6" stroke="#0000ff" stroke-opacity="0.5" stroke-width="0.5"/>
<circle cx="43.0" cy="43.5" r="3.3" fill="#0000ff" fill-opacity="0.6" stroke="#0000ff" stroke-opacity="0.5" stroke-width="0.5"/>
<circle cx="34.0" cy="51.0" r="2.8" fill="#0000ff" fill-opacity="0.6" stroke="#0000ff" stroke-opacity="0.5" stroke-width="0.5"/>
<circle cx="51.0" cy="46.0" r="1.3" fill="#0000ff" fill-opacity="0.6" stroke="#0000ff" stroke-opacity="0.5" stroke-width="0.5"/>
<circle cx="52.0" cy="48.5" r="1.3" fill="#0000ff" fill-opacity="0.6" stroke="#0000ff" stroke-opacity="0.5" stroke-width="0.5"/>
<circle cx="57.0" cy="50.5" r="1.3" fill="#0000ff" fill-opacity="0.6" stroke="#0000ff" stroke-opacity="0.5" stroke-width="0.5"/>
<circle cx="63.5" cy="46.5" r="1.2" fill="#0000ff" fill-opacity="0.6" stroke="#0000ff" stroke-opacity="0.5" stroke-width="0.5"/>
<circle cx="65.5" cy="50.0" r="1.3" fill="#0000ff" fill-opacity="0.6" stroke="#0000ff" stroke-opacity="0.5" stroke-width="0.5"/>
<circle cx="47.5" cy="51.5" r="1.5" fill="#0000ff" fill-opacity="0.6" stroke="#0000ff" stroke-opacity="0.5" stroke-width="0.5"/>
<circle cx="40.0" cy="48.0" r="1.3" fill="#0000ff" fill-opacity="0.6" stroke="#0000ff" stroke-opacity="0.5" stroke-width="0.5"/>
<circle cx="36.5" cy="42.0" r="1.2" fill="#0000ff" fill-opacity="0.6" stroke="#0000ff" stroke-opacity="0.5" stroke-width="0.5"/>
<circle cx="55.5" cy="44.0" r="1.2" fill="#0000ff" fill-opacity="0.6" stroke="#0000ff" stroke-opacity="0.5" stroke-width="0.5"/>
<circle cx="60.0" cy="61.0" r="1.5" fill="#0000ff" fill-opacity="0.6" stroke="#0000ff" stroke-opacity="0.5" stroke-width="0.5"/>
<circle cx="57.0" cy="55.5" r="1.5" fill="#0000ff" fill-opacity="0.6" stroke="#0000ff" stroke-opacity="0.5" stroke-width="0.5"/>
<circle cx="33.0" cy="47.0" r="1.3" fill="#0000ff" fill-opacity="0.6" stroke="#0000ff" stroke-opacity="0.5" stroke-width="0.5"/>
<circle cx="46.0" cy="41.0" r="1.2" fill="#0000ff" fill-opacity="0.6" stroke="#0000ff" stroke-opacity="0.5" stroke-width="0.5"/>
<path d="M31.0 26.3V139.1H200.4" fill="none" stroke="#000" stroke-width="1.3"/>
<path d="M26.3 139.10H31.0M31.00 139.1V143.8M28.3 128.38H31.0M47.05 139.1V141.8M28.3 117.66H31.0M63.10 139.1V141.8M28.3 106.94H31.0M79.15 139.1V141.8M28.3 96.22H31.0M95.20 139.1V141.8M26.3 85.50H31.0M111.25 139.1V143.8M28.3 74.78H31.0M127.30 139.1V141.8M28.3 64.06H31.0M143.35 139.1V141.8M28.3 53.34H31.0M159.40 139.1V141.8M28.3 42.62H31.0M175.45 139.1V141.8M26.3 31.90H31.0M191.50 139.1V143.8" stroke="#000" stroke-width="1.25" fill="none"/>
<text x="25.3" y="142.3" class="tk" text-anchor="end">0.0</text>
<text x="31.0" y="153.4" class="tk" text-anchor="middle">0.0</text>
<text x="25.3" y="88.7" class="tk" text-anchor="end">0.5</text>
<text x="111.2" y="153.4" class="tk" text-anchor="middle">0.5</text>
<text x="25.3" y="35.1" class="tk" text-anchor="end">1.0</text>
<text x="191.5" y="153.4" class="tk" text-anchor="middle">1.0</text>
<text x="115.1" y="167.0" class="ax" text-anchor="middle">1-Specificity</text>
<text transform="translate(7.4 82.5) rotate(-90)" class="ax" text-anchor="middle">Sensitivity</text>
<text x="226.4" y="20.0" class="lh">Biomarker Type</text>
<circle cx="230.5" cy="32.6" r="3.8" fill="#ff0000" fill-opacity="0.5"/>
<text x="239.6" y="35.3" class="lt">Multi-biomarker panel</text>
<circle cx="230.5" cy="45.4" r="3.8" fill="#2020ff" fill-opacity="0.55"/>
<text x="239.6" y="48.1" class="lt">Single biomarker</text>
<text x="222.9" y="70.2" class="lh">Size of PDAC cohort</text>
<circle cx="228.2" cy="82.6" r="0.7" fill="#000"/>
<text x="238.5" y="85.5" class="ln">15.00</text>
<circle cx="228.2" cy="95.5" r="1.6" fill="#000"/>
<text x="238.5" y="98.2" class="ln">93.11</text>
<circle cx="228.2" cy="108.4" r="4.8" fill="#000"/>
<text x="238.5" y="110.9" class="ln">578.00</text>
<text x="3.9" y="231.3" class="pl">B</text>
<text x="68.8" y="232.0" class="ti">Novel Biomarkers</text>
<line x1="30.8" y1="359.4" x2="189.8" y2="253.1" stroke="#111" stroke-width="0.85" stroke-dasharray="1.5 0.9"/>
<circle cx="38.5" cy="349.4" r="2.3" fill="#0000ff" fill-opacity="0.6" stroke="#0000ff" stroke-opacity="0.5" stroke-width="0.5"/>
<circle cx="44.1" cy="278.1" r="2.0" fill="#0000ff" fill-opacity="0.6" stroke="#0000ff" stroke-opacity="0.5" stroke-width="0.5"/>
<circle cx="102.3" cy="278.5" r="1.2" fill="#0000ff" fill-opacity="0.6" stroke="#0000ff" stroke-opacity="0.5" stroke-width="0.5"/>
<circle cx="152.6" cy="324.7" r="1.5" fill="#0000ff" fill-opacity="0.6" stroke="#0000ff" stroke-opacity="0.5" stroke-width="0.5"/>
<circle cx="88.4" cy="268.4" r="1.3" fill="#0000ff" fill-opacity="0.6" stroke="#0000ff" stroke-opacity="0.5" stroke-width="0.5"/>
<circle cx="34.1" cy="341.3" r="2.0" fill="#0000ff" fill-opacity="0.6" stroke="#0000ff" stroke-opacity="0.5" stroke-width="0.5"/>
<circle cx="37.9" cy="297.1" r="1.0" fill="#ff0000" fill-opacity="0.6" stroke="#ff0000" stroke-opacity="0.5" stroke-width="0.5"/>
<circle cx="170.5" cy="349.0" r="1.3" fill="#0000ff" fill-opacity="0.6" stroke="#0000ff" stroke-opacity="0.5" stroke-width="0.5"/>
<circle cx="40.9" cy="277.4" r="1.3" fill="#0000ff" fill-opacity="0.6" stroke="#0000ff" stroke-opacity="0.5" stroke-width="0.5"/>
<circle cx="179.6" cy="267.7" r="1.2" fill="#0000ff" fill-opacity="0.6" stroke="#0000ff" stroke-opacity="0.5" stroke-width="0.5"/>
<circle cx="54.1" cy="261.9" r="1.2" fill="#0000ff" fill-opacity="0.6" stroke="#0000ff" stroke-opacity="0.5" stroke-width="0.5"/>
<circle cx="57.0" cy="278.5" r="2.0" fill="#0000ff" fill-opacity="0.6" stroke="#0000ff" stroke-opacity="0.5" stroke-width="0.5"/>
<circle cx="146.2" cy="274.6" r="1.2" fill="#0000ff" fill-opacity="0.6" stroke="#0000ff" stroke-opacity="0.5" stroke-width="0.5"/>
<circle cx="45.7" cy="282.2" r="1.3" fill="#0000ff" fill-opacity="0.6" stroke="#0000ff" stroke-opacity="0.5" stroke-width="0.5"/>
<circle cx="59.1" cy="266.3" r="1.5" fill="#0000ff" fill-opacity="0.6" stroke="#0000ff" stroke-opacity="0.5" stroke-width="0.5"/>
<circle cx="70.3" cy="280.5" r="1.2" fill="#0000ff" fill-opacity="0.6" stroke="#0000ff" stroke-opacity="0.5" stroke-width="0.5"/>
<circle cx="68.9" cy="271.3" r="1.2" fill="#0000ff" fill-opacity="0.6" stroke="#0000ff" stroke-opacity="0.5" stroke-width="0.5"/>
<circle cx="59.4" cy="278.8" r="2.0" fill="#0000ff" fill-opacity="0.6" stroke="#0000ff" stroke-opacity="0.5" stroke-width="0.5"/>
<circle cx="178.7" cy="344.5" r="0.7" fill="#0000ff" fill-opacity="0.6" stroke="#0000ff" stroke-opacity="0.5" stroke-width="0.5"/>
<circle cx="31.9" cy="336.0" r="1.0" fill="#0000ff" fill-opacity="0.6" stroke="#0000ff" stroke-opacity="0.5" stroke-width="0.5"/>
<circle cx="59.2" cy="267.7" r="1.8" fill="#0000ff" fill-opacity="0.6" stroke="#0000ff" stroke-opacity="0.5" stroke-width="0.5"/>
<circle cx="47.0" cy="324.1" r="1.0" fill="#0000ff" fill-opacity="0.6" stroke="#0000ff" stroke-opacity="0.5" stroke-width="0.5"/>
<circle cx="175.0" cy="311.5" r="1.7" fill="#0000ff" fill-opacity="0.6" stroke="#0000ff" stroke-opacity="0.5" stroke-width="0.5"/>
<circle cx="83.5" cy="273.8" r="1.0" fill="#0000ff" fill-opacity="0.6" stroke="#0000ff" stroke-opacity="0.5" stroke-width="0.5"/>
<circle cx="71.0" cy="290.0" r="1.5" fill="#0000ff" fill-opacity="0.6" stroke="#0000ff" stroke-opacity="0.5" stroke-width="0.5"/>
<circle cx="135.8" cy="308.8" r="1.2" fill="#0000ff" fill-opacity="0.6" stroke="#0000ff" stroke-opacity="0.5" stroke-width="0.5"/>
<circle cx="93.5" cy="277.4" r="1.0" fill="#0000ff" fill-opacity="0.6" stroke="#0000ff" stroke-opacity="0.5" stroke-width="0.5"/>
<circle cx="59.6" cy="255.6" r="1.0" fill="#ff0000" fill-opacity="0.6" stroke="#ff0000" stroke-opacity="0.5" stroke-width="0.5"/>
<circle cx="67.5" cy="279.3" r="1.0" fill="#0000ff" fill-opacity="0.6" stroke="#0000ff" stroke-opacity="0.5" stroke-width="0.5"/>
<circle cx="40.5" cy="263.8" r="2.0" fill="#0000ff" fill-opacity="0.6" stroke="#0000ff" stroke-opacity="0.5" stroke-width="0.5"/>
<circle cx="132.8" cy="339.2" r="1.2" fill="#0000ff" fill-opacity="0.6" stroke="#0000ff" stroke-opacity="0.5" stroke-width="0.5"/>
<circle cx="145.5" cy="331.8" r="1.2" fill="#0000ff" fill-opacity="0.6" stroke="#0000ff" stroke-opacity="0.5" stroke-width="0.5"/>
<circle cx="46.0" cy="301.3" r="1.7" fill="#0000ff" fill-opacity="0.6" stroke="#0000ff" stroke-opacity="0.5" stroke-width="0.5"/>
<circle cx="86.0" cy="279.4" r="1.5" fill="#0000ff" fill-opacity="0.6" stroke="#0000ff" stroke-opacity="0.5" stroke-width="0.5"/>
<circle cx="84.2" cy="276.1" r="1.8" fill="#0000ff" fill-opacity="0.6" stroke="#0000ff" stroke-opacity="0.5" stroke-width="0.5"/>
<circle cx="69.0" cy="285.8" r="1.0" fill="#0000ff" fill-opacity="0.6" stroke="#0000ff" stroke-opacity="0.5" stroke-width="0.5"/>
<circle cx="33.5" cy="288.1" r="2.3" fill="#ff0000" fill-opacity="0.6" stroke="#ff0000" stroke-opacity="0.5" stroke-width="0.5"/>
<circle cx="87.9" cy="296.7" r="2.6" fill="#0000ff" fill-opacity="0.6" stroke="#0000ff" stroke-opacity="0.5" stroke-width="0.5"/>
<circle cx="31.6" cy="317.5" r="2.3" fill="#0000ff" fill-opacity="0.6" stroke="#0000ff" stroke-opacity="0.5" stroke-width="0.5"/>
<circle cx="31.0" cy="260.0" r="0.8" fill="#ff0000" fill-opacity="0.6" stroke="#ff0000" stroke-opacity="0.5" stroke-width="0.5"/>
<circle cx="84.5" cy="268.6" r="2.5" fill="#ff0000" fill-opacity="0.6" stroke="#ff0000" stroke-opacity="0.5" stroke-width="0.5"/>
<circle cx="107.6" cy="277.6" r="1.0" fill="#0000ff" fill-opacity="0.6" stroke="#0000ff" stroke-opacity="0.5" stroke-width="0.5"/>
<circle cx="121.2" cy="349.2" r="0.9" fill="#0000ff" fill-opacity="0.6" stroke="#0000ff" stroke-opacity="0.5" stroke-width="0.5"/>
<circle cx="51.8" cy="266.1" r="1.0" fill="#0000ff" fill-opacity="0.6" stroke="#0000ff" stroke-opacity="0.5" stroke-width="0.5"/>
<circle cx="72.9" cy="287.5" r="1.5" fill="#0000ff" fill-opacity="0.6" stroke="#0000ff" stroke-opacity="0.5" stroke-width="0.5"/>
<circle cx="56.6" cy="270.6" r="1.3" fill="#ff0000" fill-opacity="0.6" stroke="#ff0000" stroke-opacity="0.5" stroke-width="0.5"/>
<circle cx="137.3" cy="269.1" r="2.0" fill="#ff0000" fill-opacity="0.6" stroke="#ff0000" stroke-opacity="0.5" stroke-width="0.5"/>
<circle cx="85.0" cy="286.2" r="1.0" fill="#0000ff" fill-opacity="0.6" stroke="#0000ff" stroke-opacity="0.5" stroke-width="0.5"/>
<circle cx="39.1" cy="278.4" r="1.8" fill="#0000ff" fill-opacity="0.6" stroke="#0000ff" stroke-opacity="0.5" stroke-width="0.5"/>
<circle cx="36.4" cy="335.6" r="1.2" fill="#ff0000" fill-opacity="0.6" stroke="#ff0000" stroke-opacity="0.5" stroke-width="0.5"/>
<circle cx="154.9" cy="258.5" r="1.8" fill="#0000ff" fill-opacity="0.6" stroke="#0000ff" stroke-opacity="0.5" stroke-width="0.5"/>
<circle cx="63.5" cy="278.8" r="2.0" fill="#0000ff" fill-opacity="0.6" stroke="#0000ff" stroke-opacity="0.5" stroke-width="0.5"/>
<circle cx="67.0" cy="291.9" r="1.0" fill="#0000ff" fill-opacity="0.6" stroke="#0000ff" stroke-opacity="0.5" stroke-width="0.5"/>
<circle cx="66.0" cy="303.8" r="1.5" fill="#0000ff" fill-opacity="0.6" stroke="#0000ff" stroke-opacity="0.5" stroke-width="0.5"/>
<circle cx="43.6" cy="280.9" r="1.5" fill="#0000ff" fill-opacity="0.6" stroke="#0000ff" stroke-opacity="0.5" stroke-width="0.5"/>
<circle cx="67.6" cy="274.6" r="1.0" fill="#0000ff" fill-opacity="0.6" stroke="#0000ff" stroke-opacity="0.5" stroke-width="0.5"/>
<circle cx="37.9" cy="322.3" r="1.5" fill="#0000ff" fill-opacity="0.6" stroke="#0000ff" stroke-opacity="0.5" stroke-width="0.5"/>
<circle cx="51.0" cy="281.9" r="1.5" fill="#0000ff" fill-opacity="0.6" stroke="#0000ff" stroke-opacity="0.5" stroke-width="0.5"/>
<circle cx="51.0" cy="308.1" r="1.5" fill="#0000ff" fill-opacity="0.6" stroke="#0000ff" stroke-opacity="0.5" stroke-width="0.5"/>
<circle cx="67.3" cy="271.3" r="2.0" fill="#0000ff" fill-opacity="0.6" stroke="#0000ff" stroke-opacity="0.5" stroke-width="0.5"/>
<circle cx="118.0" cy="256.6" r="1.0" fill="#0000ff" fill-opacity="0.6" stroke="#0000ff" stroke-opacity="0.5" stroke-width="0.5"/>
<circle cx="53.5" cy="264.4" r="1.5" fill="#ff0000" fill-opacity="0.6" stroke="#ff0000" stroke-opacity="0.5" stroke-width="0.5"/>
<circle cx="41.5" cy="331.1" r="1.0" fill="#0000ff" fill-opacity="0.6" stroke="#0000ff" stroke-opacity="0.5" stroke-width="0.5"/>
<circle cx="48.4" cy="263.4" r="1.3" fill="#0000ff" fill-opacity="0.6" stroke="#0000ff" stroke-opacity="0.5" stroke-width="0.5"/>
<circle cx="51.0" cy="298.1" r="1.2" fill="#0000ff" fill-opacity="0.6" stroke="#0000ff" stroke-opacity="0.5" stroke-width="0.5"/>
<circle cx="61.6" cy="293.1" r="2.0" fill="#0000ff" fill-opacity="0.6" stroke="#0000ff" stroke-opacity="0.5" stroke-width="0.5"/>
<circle cx="66.0" cy="280.6" r="1.0" fill="#ff0000" fill-opacity="0.6" stroke="#ff0000" stroke-opacity="0.5" stroke-width="0.5"/>
<circle cx="56.0" cy="281.3" r="2.5" fill="#0000ff" fill-opacity="0.6" stroke="#0000ff" stroke-opacity="0.5" stroke-width="0.5"/>
<circle cx="33.5" cy="253.1" r="1.0" fill="#0000ff" fill-opacity="0.6" stroke="#0000ff" stroke-opacity="0.5" stroke-width="0.5"/>
<circle cx="69.8" cy="260.6" r="1.2" fill="#0000ff" fill-opacity="0.6" stroke="#0000ff" stroke-opacity="0.5" stroke-width="0.5"/>
<circle cx="119.6" cy="321.2" r="1.2" fill="#0000ff" fill-opacity="0.6" stroke="#0000ff" stroke-opacity="0.5" stroke-width="0.5"/>
<circle cx="50.7" cy="264.0" r="1.0" fill="#0000ff" fill-opacity="0.6" stroke="#0000ff" stroke-opacity="0.5" stroke-width="0.5"/>
<circle cx="34.8" cy="296.9" r="1.0" fill="#0000ff" fill-opacity="0.6" stroke="#0000ff" stroke-opacity="0.5" stroke-width="0.5"/>
<circle cx="38.5" cy="271.9" r="1.5" fill="#0000ff" fill-opacity="0.6" stroke="#0000ff" stroke-opacity="0.5" stroke-width="0.5"/>
<circle cx="41.6" cy="301.3" r="1.0" fill="#0000ff" fill-opacity="0.6" stroke="#0000ff" stroke-opacity="0.5" stroke-width="0.5"/>
<circle cx="114.3" cy="276.2" r="1.6" fill="#0000ff" fill-opacity="0.6" stroke="#0000ff" stroke-opacity="0.5" stroke-width="0.5"/>
<circle cx="75.0" cy="306.3" r="1.3" fill="#0000ff" fill-opacity="0.6" stroke="#0000ff" stroke-opacity="0.5" stroke-width="0.5"/>
<circle cx="37.4" cy="290.1" r="1.8" fill="#0000ff" fill-opacity="0.6" stroke="#0000ff" stroke-opacity="0.5" stroke-width="0.5"/>
<circle cx="60.4" cy="308.1" r="2.3" fill="#0000ff" fill-opacity="0.6" stroke="#0000ff" stroke-opacity="0.5" stroke-width="0.5"/>
<circle cx="45.4" cy="281.3" r="1.5" fill="#ff0000" fill-opacity="0.6" stroke="#ff0000" stroke-opacity="0.5" stroke-width="0.5"/>
<circle cx="54.8" cy="299.4" r="1.0" fill="#0000ff" fill-opacity="0.6" stroke="#0000ff" stroke-opacity="0.5" stroke-width="0.5"/>
<circle cx="97.7" cy="276.9" r="1.8" fill="#0000ff" fill-opacity="0.6" stroke="#0000ff" stroke-opacity="0.5" stroke-width="0.5"/>
<circle cx="76.6" cy="268.1" r="2.0" fill="#ff0000" fill-opacity="0.6" stroke="#ff0000" stroke-opacity="0.5" stroke-width="0.5"/>
<circle cx="42.9" cy="271.9" r="1.5" fill="#0000ff" fill-opacity="0.6" stroke="#0000ff" stroke-opacity="0.5" stroke-width="0.5"/>
<circle cx="38.2" cy="267.7" r="1.2" fill="#0000ff" fill-opacity="0.6" stroke="#0000ff" stroke-opacity="0.5" stroke-width="0.5"/>
<circle cx="169.9" cy="350.8" r="1.6" fill="#0000ff" fill-opacity="0.6" stroke="#0000ff" stroke-opacity="0.5" stroke-width="0.5"/>
<circle cx="52.3" cy="271.3" r="1.5" fill="#ff0000" fill-opacity="0.6" stroke="#ff0000" stroke-opacity="0.5" stroke-width="0.5"/>
<circle cx="49.5" cy="317.5" r="1.5" fill="#0000ff" fill-opacity="0.6" stroke="#0000ff" stroke-opacity="0.5" stroke-width="0.5"/>
<circle cx="63.2" cy="302.5" r="2.0" fill="#0000ff" fill-opacity="0.6" stroke="#0000ff" stroke-opacity="0.5" stroke-width="0.5"/>
<circle cx="52.3" cy="287.5" r="1.5" fill="#0000ff" fill-opacity="0.6" stroke="#0000ff" stroke-opacity="0.5" stroke-width="0.5"/>
<circle cx="35.4" cy="308.8" r="1.0" fill="#0000ff" fill-opacity="0.6" stroke="#0000ff" stroke-opacity="0.5" stroke-width="0.5"/>
<circle cx="59.0" cy="263.6" r="1.0" fill="#ff0000" fill-opacity="0.6" stroke="#ff0000" stroke-opacity="0.5" stroke-width="0.5"/>
<circle cx="76.6" cy="296.9" r="1.8" fill="#0000ff" fill-opacity="0.6" stroke="#0000ff" stroke-opacity="0.5" stroke-width="0.5"/>
<circle cx="69.8" cy="284.8" r="1.0" fill="#ff0000" fill-opacity="0.6" stroke="#ff0000" stroke-opacity="0.5" stroke-width="0.5"/>
<circle cx="41.0" cy="266.9" r="1.5" fill="#0000ff" fill-opacity="0.6" stroke="#0000ff" stroke-opacity="0.5" stroke-width="0.5"/>
<circle cx="75.0" cy="257.5" r="1.5" fill="#0000ff" fill-opacity="0.6" stroke="#0000ff" stroke-opacity="0.5" stroke-width="0.5"/>
<circle cx="89.4" cy="325.8" r="1.2" fill="#0000ff" fill-opacity="0.6" stroke="#0000ff" stroke-opacity="0.5" stroke-width="0.5"/>
<circle cx="31.6" cy="263.8" r="1.0" fill="#0000ff" fill-opacity="0.6" stroke="#0000ff" stroke-opacity="0.5" stroke-width="0.5"/>
<circle cx="67.2" cy="273.9" r="1.5" fill="#0000ff" fill-opacity="0.6" stroke="#0000ff" stroke-opacity="0.5" stroke-width="0.5"/>
<circle cx="36.6" cy="306.3" r="1.2" fill="#0000ff" fill-opacity="0.6" stroke="#0000ff" stroke-opacity="0.5" stroke-width="0.5"/>
<circle cx="100.5" cy="269.1" r="2.0" fill="#ff0000" fill-opacity="0.6" stroke="#ff0000" stroke-opacity="0.5" stroke-width="0.5"/>
<circle cx="36.6" cy="278.8" r="3.0" fill="#0000ff" fill-opacity="0.6" stroke="#0000ff" stroke-opacity="0.5" stroke-width="0.5"/>
<circle cx="58.8" cy="287.3" r="1.5" fill="#0000ff" fill-opacity="0.6" stroke="#0000ff" stroke-opacity="0.5" stroke-width="0.5"/>
<circle cx="45.3" cy="286.1" r="1.5" fill="#0000ff" fill-opacity="0.6" stroke="#0000ff" stroke-opacity="0.5" stroke-width="0.5"/>
<circle cx="49.4" cy="267.3" r="1.6" fill="#ff0000" fill-opacity="0.6" stroke="#ff0000" stroke-opacity="0.5" stroke-width="0.5"/>
<circle cx="70.3" cy="280.5" r="1.0" fill="#0000ff" fill-opacity="0.6" stroke="#0000ff" stroke-opacity="0.5" stroke-width="0.5"/>
<circle cx="49.5" cy="269.0" r="1.3" fill="#ff0000" fill-opacity="0.6" stroke="#ff0000" stroke-opacity="0.5" stroke-width="0.5"/>
<circle cx="138.1" cy="293.5" r="1.4" fill="#0000ff" fill-opacity="0.6" stroke="#0000ff" stroke-opacity="0.5" stroke-width="0.5"/>
<circle cx="36.9" cy="262.5" r="1.3" fill="#0000ff" fill-opacity="0.6" stroke="#0000ff" stroke-opacity="0.5" stroke-width="0.5"/>
<circle cx="166.9" cy="350.8" r="1.6" fill="#0000ff" fill-opacity="0.6" stroke="#0000ff" stroke-opacity="0.5" stroke-width="0.5"/>
<circle cx="52.9" cy="302.5" r="1.7" fill="#0000ff" fill-opacity="0.6" stroke="#0000ff" stroke-opacity="0.5" stroke-width="0.5"/>
<circle cx="95.8" cy="278.5" r="0.8" fill="#ff0000" fill-opacity="0.6" stroke="#ff0000" stroke-opacity="0.5" stroke-width="0.5"/>
<circle cx="46.0" cy="265.0" r="1.5" fill="#0000ff" fill-opacity="0.6" stroke="#0000ff" stroke-opacity="0.5" stroke-width="0.5"/>
<circle cx="67.5" cy="273.2" r="1.5" fill="#0000ff" fill-opacity="0.6" stroke="#0000ff" stroke-opacity="0.5" stroke-width="0.5"/>
<circle cx="78.7" cy="282.8" r="1.0" fill="#0000ff" fill-opacity="0.6" stroke="#0000ff" stroke-opacity="0.5" stroke-width="0.5"/>
<circle cx="49.1" cy="269.4" r="2.7" fill="#0000ff" fill-opacity="0.6" stroke="#0000ff" stroke-opacity="0.5" stroke-width="0.5"/>
<circle cx="86.2" cy="279.2" r="1.5" fill="#0000ff" fill-opacity="0.6" stroke="#0000ff" stroke-opacity="0.5" stroke-width="0.5"/>
<circle cx="66.0" cy="324.1" r="1.2" fill="#0000ff" fill-opacity="0.6" stroke="#0000ff" stroke-opacity="0.5" stroke-width="0.5"/>
<circle cx="37.9" cy="260.0" r="2.0" fill="#ff0000" fill-opacity="0.6" stroke="#ff0000" stroke-opacity="0.5" stroke-width="0.5"/>
<circle cx="39.1" cy="255.6" r="1.5" fill="#ff0000" fill-opacity="0.6" stroke="#ff0000" stroke-opacity="0.5" stroke-width="0.5"/>
<circle cx="32.9" cy="291.3" r="1.5" fill="#ff0000" fill-opacity="0.6" stroke="#ff0000" stroke-opacity="0.5" stroke-width="0.5"/>
<circle cx="41.3" cy="274.6" r="1.2" fill="#0000ff" fill-opacity="0.6" stroke="#0000ff" stroke-opacity="0.5" stroke-width="0.5"/>
<circle cx="34.8" cy="275.6" r="1.5" fill="#0000ff" fill-opacity="0.6" stroke="#0000ff" stroke-opacity="0.5" stroke-width="0.5"/>
<circle cx="94.2" cy="272.3" r="1.0" fill="#0000ff" fill-opacity="0.6" stroke="#0000ff" stroke-opacity="0.5" stroke-width="0.5"/>
<circle cx="67.3" cy="258.8" r="1.0" fill="#0000ff" fill-opacity="0.6" stroke="#0000ff" stroke-opacity="0.5" stroke-width="0.5"/>
<circle cx="44.1" cy="268.1" r="2.0" fill="#ff0000" fill-opacity="0.6" stroke="#ff0000" stroke-opacity="0.5" stroke-width="0.5"/>
<circle cx="155.9" cy="354.2" r="0.7" fill="#0000ff" fill-opacity="0.6" stroke="#0000ff" stroke-opacity="0.5" stroke-width="0.5"/>
<circle cx="54.9" cy="279.2" r="1.2" fill="#0000ff" fill-opacity="0.6" stroke="#0000ff" stroke-opacity="0.5" stroke-width="0.5"/>
<circle cx="39.1" cy="275.0" r="1.0" fill="#0000ff" fill-opacity="0.6" stroke="#0000ff" stroke-opacity="0.5" stroke-width="0.5"/>
<circle cx="34.8" cy="318.8" r="0.8" fill="#0000ff" fill-opacity="0.6" stroke="#0000ff" stroke-opacity="0.5" stroke-width="0.5"/>
<circle cx="161.2" cy="331.4" r="1.2" fill="#0000ff" fill-opacity="0.6" stroke="#0000ff" stroke-opacity="0.5" stroke-width="0.5"/>
<circle cx="42.5" cy="256.0" r="1.0" fill="#ff0000" fill-opacity="0.6" stroke="#ff0000" stroke-opacity="0.5" stroke-width="0.5"/>
<circle cx="37.8" cy="257.2" r="1.3" fill="#ff0000" fill-opacity="0.6" stroke="#ff0000" stroke-opacity="0.5" stroke-width="0.5"/>
<circle cx="35.5" cy="280.3" r="2.0" fill="#0000ff" fill-opacity="0.6" stroke="#0000ff" stroke-opacity="0.5" stroke-width="0.5"/>
<circle cx="105.3" cy="269.1" r="2.0" fill="#ff0000" fill-opacity="0.6" stroke="#ff0000" stroke-opacity="0.5" stroke-width="0.5"/>
<circle cx="90.8" cy="284.5" r="2.2" fill="#0000ff" fill-opacity="0.6" stroke="#0000ff" stroke-opacity="0.5" stroke-width="0.5"/>
<circle cx="171.5" cy="347.5" r="1.3" fill="#0000ff" fill-opacity="0.6" stroke="#0000ff" stroke-opacity="0.5" stroke-width="0.5"/>
<circle cx="35.7" cy="264.2" r="1.0" fill="#0000ff" fill-opacity="0.6" stroke="#0000ff" stroke-opacity="0.5" stroke-width="0.5"/>
<circle cx="94.2" cy="286.2" r="1.2" fill="#0000ff" fill-opacity="0.6" stroke="#0000ff" stroke-opacity="0.5" stroke-width="0.5"/>
<circle cx="61.6" cy="271.3" r="2.5" fill="#0000ff" fill-opacity="0.6" stroke="#0000ff" stroke-opacity="0.5" stroke-width="0.5"/>
<circle cx="43.5" cy="293.1" r="2.0" fill="#0000ff" fill-opacity="0.6" stroke="#0000ff" stroke-opacity="0.5" stroke-width="0.5"/>
<circle cx="56.6" cy="270.6" r="2.5" fill="#0000ff" fill-opacity="0.6" stroke="#0000ff" stroke-opacity="0.5" stroke-width="0.5"/>
<circle cx="72.9" cy="290.9" r="1.0" fill="#0000ff" fill-opacity="0.6" stroke="#0000ff" stroke-opacity="0.5" stroke-width="0.5"/>
<circle cx="81.0" cy="287.5" r="2.0" fill="#0000ff" fill-opacity="0.6" stroke="#0000ff" stroke-opacity="0.5" stroke-width="0.5"/>
<circle cx="50.4" cy="310.6" r="1.0" fill="#0000ff" fill-opacity="0.6" stroke="#0000ff" stroke-opacity="0.5" stroke-width="0.5"/>
<circle cx="66.0" cy="280.6" r="2.0" fill="#0000ff" fill-opacity="0.6" stroke="#0000ff" stroke-opacity="0.5" stroke-width="0.5"/>
<circle cx="41.6" cy="296.9" r="1.5" fill="#0000ff" fill-opacity="0.6" stroke="#0000ff" stroke-opacity="0.5" stroke-width="0.5"/>
<circle cx="38.5" cy="342.9" r="2.3" fill="#0000ff" fill-opacity="0.6" stroke="#0000ff" stroke-opacity="0.5" stroke-width="0.5"/>
<circle cx="51.0" cy="264.2" r="1.0" fill="#0000ff" fill-opacity="0.6" stroke="#0000ff" stroke-opacity="0.5" stroke-width="0.5"/>
<circle cx="115.0" cy="269.1" r="2.0" fill="#ff0000" fill-opacity="0.6" stroke="#ff0000" stroke-opacity="0.5" stroke-width="0.5"/>
<circle cx="80.4" cy="295.6" r="1.0" fill="#0000ff" fill-opacity="0.6" stroke="#0000ff" stroke-opacity="0.5" stroke-width="0.5"/>
<circle cx="136.9" cy="336.0" r="1.6" fill="#0000ff" fill-opacity="0.6" stroke="#0000ff" stroke-opacity="0.5" stroke-width="0.5"/>
<circle cx="68.7" cy="273.5" r="1.5" fill="#0000ff" fill-opacity="0.6" stroke="#0000ff" stroke-opacity="0.5" stroke-width="0.5"/>
<circle cx="43.5" cy="292.5" r="2.0" fill="#0000ff" fill-opacity="0.6" stroke="#0000ff" stroke-opacity="0.5" stroke-width="0.5"/>
<circle cx="39.7" cy="292.2" r="1.2" fill="#0000ff" fill-opacity="0.6" stroke="#0000ff" stroke-opacity="0.5" stroke-width="0.5"/>
<circle cx="41.0" cy="285.6" r="1.5" fill="#0000ff" fill-opacity="0.6" stroke="#0000ff" stroke-opacity="0.5" stroke-width="0.5"/>
<circle cx="52.0" cy="296.4" r="1.3" fill="#0000ff" fill-opacity="0.6" stroke="#0000ff" stroke-opacity="0.5" stroke-width="0.5"/>
<circle cx="77.3" cy="264.4" r="1.5" fill="#0000ff" fill-opacity="0.6" stroke="#0000ff" stroke-opacity="0.5" stroke-width="0.5"/>
<circle cx="175.0" cy="336.5" r="1.5" fill="#0000ff" fill-opacity="0.6" stroke="#0000ff" stroke-opacity="0.5" stroke-width="0.5"/>
<circle cx="151.9" cy="346.8" r="1.2" fill="#0000ff" fill-opacity="0.6" stroke="#0000ff" stroke-opacity="0.5" stroke-width="0.5"/>
<circle cx="47.9" cy="283.1" r="1.3" fill="#0000ff" fill-opacity="0.6" stroke="#0000ff" stroke-opacity="0.5" stroke-width="0.5"/>
<circle cx="74.3" cy="273.7" r="1.8" fill="#0000ff" fill-opacity="0.6" stroke="#0000ff" stroke-opacity="0.5" stroke-width="0.5"/>
<circle cx="163.9" cy="282.9" r="1.0" fill="#0000ff" fill-opacity="0.6" stroke="#0000ff" stroke-opacity="0.5" stroke-width="0.5"/>
<circle cx="34.1" cy="345.0" r="2.8" fill="#0000ff" fill-opacity="0.6" stroke="#0000ff" stroke-opacity="0.5" stroke-width="0.5"/>
<circle cx="73.0" cy="285.8" r="1.3" fill="#0000ff" fill-opacity="0.6" stroke="#0000ff" stroke-opacity="0.5" stroke-width="0.5"/>
<circle cx="31.0" cy="257.5" r="0.8" fill="#ff0000" fill-opacity="0.6" stroke="#ff0000" stroke-opacity="0.5" stroke-width="0.5"/>
<circle cx="135.8" cy="290.1" r="1.2" fill="#0000ff" fill-opacity="0.6" stroke="#0000ff" stroke-opacity="0.5" stroke-width="0.5"/>
<circle cx="36.4" cy="331.9" r="1.5" fill="#0000ff" fill-opacity="0.6" stroke="#0000ff" stroke-opacity="0.5" stroke-width="0.5"/>
<circle cx="46.3" cy="281.1" r="1.0" fill="#0000ff" fill-opacity="0.6" stroke="#0000ff" stroke-opacity="0.5" stroke-width="0.5"/>
<circle cx="98.2" cy="301.6" r="1.6" fill="#0000ff" fill-opacity="0.6" stroke="#0000ff" stroke-opacity="0.5" stroke-width="0.5"/>
<circle cx="55.9" cy="257.6" r="1.6" fill="#ff0000" fill-opacity="0.6" stroke="#ff0000" stroke-opacity="0.5" stroke-width="0.5"/>
<circle cx="79.2" cy="269.5" r="1.2" fill="#0000ff" fill-opacity="0.6" stroke="#0000ff" stroke-opacity="0.5" stroke-width="0.5"/>
<circle cx="54.0" cy="282.6" r="1.0" fill="#0000ff" fill-opacity="0.6" stroke="#0000ff" stroke-opacity="0.5" stroke-width="0.5"/>
<circle cx="159.5" cy="336.0" r="1.5" fill="#0000ff" fill-opacity="0.6" stroke="#0000ff" stroke-opacity="0.5" stroke-width="0.5"/>
<circle cx="39.5" cy="269.6" r="2.0" fill="#0000ff" fill-opacity="0.6" stroke="#0000ff" stroke-opacity="0.5" stroke-width="0.5"/>
<circle cx="31.6" cy="300.6" r="2.5" fill="#0000ff" fill-opacity="0.6" stroke="#0000ff" stroke-opacity="0.5" stroke-width="0.5"/>
<circle cx="45.6" cy="290.5" r="1.5" fill="#0000ff" fill-opacity="0.6" stroke="#0000ff" stroke-opacity="0.5" stroke-width="0.5"/>
<circle cx="166.2" cy="337.6" r="1.5" fill="#0000ff" fill-opacity="0.6" stroke="#0000ff" stroke-opacity="0.5" stroke-width="0.5"/>
<circle cx="119.6" cy="263.5" r="1.3" fill="#0000ff" fill-opacity="0.6" stroke="#0000ff" stroke-opacity="0.5" stroke-width="0.5"/>
<circle cx="56.5" cy="264.2" r="1.8" fill="#0000ff" fill-opacity="0.6" stroke="#0000ff" stroke-opacity="0.5" stroke-width="0.5"/>
<circle cx="35.0" cy="287.9" r="2.0" fill="#0000ff" fill-opacity="0.6" stroke="#0000ff" stroke-opacity="0.5" stroke-width="0.5"/>
<circle cx="105.8" cy="276.9" r="1.0" fill="#0000ff" fill-opacity="0.6" stroke="#0000ff" stroke-opacity="0.5" stroke-width="0.5"/>
<circle cx="38.5" cy="352.8" r="2.0" fill="#0000ff" fill-opacity="0.6" stroke="#0000ff" stroke-opacity="0.5" stroke-width="0.5"/>
<circle cx="135.5" cy="269.1" r="2.0" fill="#ff0000" fill-opacity="0.6" stroke="#ff0000" stroke-opacity="0.5" stroke-width="0.5"/>
<circle cx="80.3" cy="264.5" r="1.0" fill="#0000ff" fill-opacity="0.6" stroke="#0000ff" stroke-opacity="0.5" stroke-width="0.5"/>
<circle cx="43.1" cy="323.1" r="1.2" fill="#0000ff" fill-opacity="0.6" stroke="#0000ff" stroke-opacity="0.5" stroke-width="0.5"/>
<circle cx="44.8" cy="311.5" r="2.0" fill="#0000ff" fill-opacity="0.6" stroke="#0000ff" stroke-opacity="0.5" stroke-width="0.5"/>
<circle cx="165.8" cy="254.3" r="1.6" fill="#0000ff" fill-opacity="0.6" stroke="#0000ff" stroke-opacity="0.5" stroke-width="0.5"/>
<circle cx="178.7" cy="339.2" r="0.8" fill="#0000ff" fill-opacity="0.6" stroke="#0000ff" stroke-opacity="0.5" stroke-width="0.5"/>
<circle cx="81.0" cy="265.0" r="1.2" fill="#0000ff" fill-opacity="0.6" stroke="#0000ff" stroke-opacity="0.5" stroke-width="0.5"/>
<circle cx="62.3" cy="291.3" r="1.5" fill="#0000ff" fill-opacity="0.6" stroke="#0000ff" stroke-opacity="0.5" stroke-width="0.5"/>
<circle cx="61.0" cy="288.1" r="2.0" fill="#0000ff" fill-opacity="0.6" stroke="#0000ff" stroke-opacity="0.5" stroke-width="0.5"/>
<circle cx="36.0" cy="287.5" r="3.2" fill="#0000ff" fill-opacity="0.6" stroke="#0000ff" stroke-opacity="0.5" stroke-width="0.5"/>
<circle cx="54.8" cy="255.6" r="1.2" fill="#ff0000" fill-opacity="0.6" stroke="#ff0000" stroke-opacity="0.5" stroke-width="0.5"/>
<circle cx="109.5" cy="277.6" r="1.0" fill="#0000ff" fill-opacity="0.6" stroke="#0000ff" stroke-opacity="0.5" stroke-width="0.5"/>
<circle cx="90.4" cy="271.3" r="1.2" fill="#0000ff" fill-opacity="0.6" stroke="#0000ff" stroke-opacity="0.5" stroke-width="0.5"/>
<circle cx="76.6" cy="276.3" r="2.5" fill="#0000ff" fill-opacity="0.6" stroke="#0000ff" stroke-opacity="0.5" stroke-width="0.5"/>
<circle cx="102.3" cy="263.5" r="1.0" fill="#0000ff" fill-opacity="0.6" stroke="#0000ff" stroke-opacity="0.5" stroke-width="0.5"/>
<circle cx="90.4" cy="285.0" r="2.5" fill="#0000ff" fill-opacity="0.6" stroke="#0000ff" stroke-opacity="0.5" stroke-width="0.5"/>
<circle cx="56.0" cy="303.1" r="1.0" fill="#0000ff" fill-opacity="0.6" stroke="#0000ff" stroke-opacity="0.5" stroke-width="0.5"/>
<circle cx="79.8" cy="270.6" r="1.5" fill="#0000ff" fill-opacity="0.6" stroke="#0000ff" stroke-opacity="0.5" stroke-width="0.5"/>
<circle cx="47.9" cy="253.8" r="2.0" fill="#ff0000" fill-opacity="0.6" stroke="#ff0000" stroke-opacity="0.5" stroke-width="0.5"/>
<circle cx="69.5" cy="291.8" r="1.5" fill="#0000ff" fill-opacity="0.6" stroke="#0000ff" stroke-opacity="0.5" stroke-width="0.5"/>
<circle cx="38.5" cy="351.0" r="1.5" fill="#0000ff" fill-opacity="0.6" stroke="#0000ff" stroke-opacity="0.5" stroke-width="0.5"/>
<circle cx="43.5" cy="263.8" r="1.3" fill="#ff0000" fill-opacity="0.6" stroke="#ff0000" stroke-opacity="0.5" stroke-width="0.5"/>
<circle cx="54.1" cy="260.0" r="2.0" fill="#ff0000" fill-opacity="0.6" stroke="#ff0000" stroke-opacity="0.5" stroke-width="0.5"/>
<circle cx="31.0" cy="253.1" r="0.8" fill="#ff0000" fill-opacity="0.6" stroke="#ff0000" stroke-opacity="0.5" stroke-width="0.5"/>
<circle cx="66.0" cy="288.1" r="1.5" fill="#0000ff" fill-opacity="0.6" stroke="#0000ff" stroke-opacity="0.5" stroke-width="0.5"/>
<circle cx="54.8" cy="253.5" r="1.5" fill="#ff0000" fill-opacity="0.6" stroke="#ff0000" stroke-opacity="0.5" stroke-width="0.5"/>
<circle cx="52.9" cy="278.8" r="1.5" fill="#0000ff" fill-opacity="0.6" stroke="#0000ff" stroke-opacity="0.5" stroke-width="0.5"/>
<circle cx="41.4" cy="316.9" r="1.0" fill="#0000ff" fill-opacity="0.6" stroke="#0000ff" stroke-opacity="0.5" stroke-width="0.5"/>
<circle cx="86.9" cy="281.3" r="1.2" fill="#ff0000" fill-opacity="0.6" stroke="#ff0000" stroke-opacity="0.5" stroke-width="0.5"/>
<circle cx="46.4" cy="334.6" r="1.2" fill="#0000ff" fill-opacity="0.6" stroke="#0000ff" stroke-opacity="0.5" stroke-width="0.5"/>
<circle cx="49.1" cy="288.8" r="1.0" fill="#ff0000" fill-opacity="0.6" stroke="#ff0000" stroke-opacity="0.5" stroke-width="0.5"/>
<circle cx="33.5" cy="341.0" r="1.0" fill="#ff0000" fill-opacity="0.6" stroke="#ff0000" stroke-opacity="0.5" stroke-width="0.5"/>
<circle cx="89.6" cy="287.8" r="1.0" fill="#0000ff" fill-opacity="0.6" stroke="#0000ff" stroke-opacity="0.5" stroke-width="0.5"/>
<circle cx="35.4" cy="299.4" r="0.8" fill="#ff0000" fill-opacity="0.6" stroke="#ff0000" stroke-opacity="0.5" stroke-width="0.5"/>
<circle cx="144.5" cy="354.2" r="0.7" fill="#0000ff" fill-opacity="0.6" stroke="#0000ff" stroke-opacity="0.5" stroke-width="0.5"/>
<circle cx="131.8" cy="309.9" r="1.2" fill="#0000ff" fill-opacity="0.6" stroke="#0000ff" stroke-opacity="0.5" stroke-width="0.5"/>
<circle cx="113.8" cy="263.1" r="1.0" fill="#ff0000" fill-opacity="0.6" stroke="#ff0000" stroke-opacity="0.5" stroke-width="0.5"/>
<circle cx="41.9" cy="279.6" r="2.0" fill="#0000ff" fill-opacity="0.6" stroke="#0000ff" stroke-opacity="0.5" stroke-width="0.5"/>
<circle cx="52.3" cy="253.1" r="0.8" fill="#0000ff" fill-opacity="0.6" stroke="#0000ff" stroke-opacity="0.5" stroke-width="0.5"/>
<circle cx="58.5" cy="264.4" r="2.0" fill="#0000ff" fill-opacity="0.6" stroke="#0000ff" stroke-opacity="0.5" stroke-width="0.5"/>
<circle cx="62.0" cy="302.5" r="2.0" fill="#0000ff" fill-opacity="0.6" stroke="#0000ff" stroke-opacity="0.5" stroke-width="0.5"/>
<circle cx="136.9" cy="314.3" r="1.6" fill="#0000ff" fill-opacity="0.6" stroke="#0000ff" stroke-opacity="0.5" stroke-width="0.5"/>
<circle cx="46.3" cy="305.3" r="2.3" fill="#ff0000" fill-opacity="0.6" stroke="#ff0000" stroke-opacity="0.5" stroke-width="0.5"/>
<circle cx="84.1" cy="285.6" r="1.0" fill="#0000ff" fill-opacity="0.6" stroke="#0000ff" stroke-opacity="0.5" stroke-width="0.5"/>
<circle cx="31.6" cy="268.1" r="1.0" fill="#0000ff" fill-opacity="0.6" stroke="#0000ff" stroke-opacity="0.5" stroke-width="0.5"/>
<circle cx="69.8" cy="268.1" r="1.5" fill="#ff0000" fill-opacity="0.6" stroke="#ff0000" stroke-opacity="0.5" stroke-width="0.5"/>
<circle cx="178.5" cy="358.4" r="0.7" fill="#0000ff" fill-opacity="0.6" stroke="#0000ff" stroke-opacity="0.5" stroke-width="0.5"/>
<circle cx="55.4" cy="305.6" r="1.2" fill="#0000ff" fill-opacity="0.6" stroke="#0000ff" stroke-opacity="0.5" stroke-width="0.5"/>
<circle cx="41.0" cy="256.9" r="1.0" fill="#0000ff" fill-opacity="0.6" stroke="#0000ff" stroke-opacity="0.5" stroke-width="0.5"/>
<circle cx="100.7" cy="318.9" r="1.0" fill="#0000ff" fill-opacity="0.6" stroke="#0000ff" stroke-opacity="0.5" stroke-width="0.5"/>
<circle cx="35.0" cy="287.0" r="1.5" fill="#ff0000" fill-opacity="0.6" stroke="#ff0000" stroke-opacity="0.5" stroke-width="0.5"/>
<circle cx="68.5" cy="256.9" r="1.3" fill="#0000ff" fill-opacity="0.6" stroke="#0000ff" stroke-opacity="0.5" stroke-width="0.5"/>
<circle cx="68.6" cy="287.0" r="1.0" fill="#0000ff" fill-opacity="0.6" stroke="#0000ff" stroke-opacity="0.5" stroke-width="0.5"/>
<circle cx="123.1" cy="269.1" r="1.5" fill="#ff0000" fill-opacity="0.6" stroke="#ff0000" stroke-opacity="0.5" stroke-width="0.5"/>
<circle cx="37.2" cy="260.6" r="1.6" fill="#ff0000" fill-opacity="0.6" stroke="#ff0000" stroke-opacity="0.5" stroke-width="0.5"/>
<circle cx="72.9" cy="293.1" r="2.0" fill="#0000ff" fill-opacity="0.6" stroke="#0000ff" stroke-opacity="0.5" stroke-width="0.5"/>
<circle cx="49.1" cy="258.1" r="1.5" fill="#ff0000" fill-opacity="0.6" stroke="#ff0000" stroke-opacity="0.5" stroke-width="0.5"/>
<circle cx="62.3" cy="265.6" r="2.0" fill="#0000ff" fill-opacity="0.6" stroke="#0000ff" stroke-opacity="0.5" stroke-width="0.5"/>
<circle cx="69.8" cy="282.5" r="1.5" fill="#0000ff" fill-opacity="0.6" stroke="#0000ff" stroke-opacity="0.5" stroke-width="0.5"/>
<circle cx="57.7" cy="289.1" r="1.5" fill="#0000ff" fill-opacity="0.6" stroke="#0000ff" stroke-opacity="0.5" stroke-width="0.5"/>
<circle cx="39.7" cy="272.0" r="1.5" fill="#0000ff" fill-opacity="0.6" stroke="#0000ff" stroke-opacity="0.5" stroke-width="0.5"/>
<circle cx="138.5" cy="337.6" r="1.6" fill="#0000ff" fill-opacity="0.6" stroke="#0000ff" stroke-opacity="0.5" stroke-width="0.5"/>
<circle cx="119.8" cy="269.1" r="1.5" fill="#ff0000" fill-opacity="0.6" stroke="#ff0000" stroke-opacity="0.5" stroke-width="0.5"/>
<circle cx="47.3" cy="275.6" r="1.5" fill="#ff0000" fill-opacity="0.6" stroke="#ff0000" stroke-opacity="0.5" stroke-width="0.5"/>
<circle cx="76.6" cy="274.6" r="1.5" fill="#0000ff" fill-opacity="0.6" stroke="#0000ff" stroke-opacity="0.5" stroke-width="0.5"/>
<circle cx="97.0" cy="287.8" r="1.0" fill="#0000ff" fill-opacity="0.6" stroke="#0000ff" stroke-opacity="0.5" stroke-width="0.5"/>
<circle cx="41.0" cy="262.5" r="1.3" fill="#0000ff" fill-opacity="0.6" stroke="#0000ff" stroke-opacity="0.5" stroke-width="0.5"/>
<circle cx="62.5" cy="336.0" r="1.5" fill="#0000ff" fill-opacity="0.6" stroke="#0000ff" stroke-opacity="0.5" stroke-width="0.5"/>
<circle cx="34.1" cy="341.3" r="3.5" fill="#0000ff" fill-opacity="0.6" stroke="#0000ff" stroke-opacity="0.5" stroke-width="0.5"/>
<circle cx="60.1" cy="277.2" r="1.5" fill="#0000ff" fill-opacity="0.6" stroke="#0000ff" stroke-opacity="0.5" stroke-width="0.5"/>
<circle cx="46.4" cy="328.4" r="0.8" fill="#0000ff" fill-opacity="0.6" stroke="#0000ff" stroke-opacity="0.5" stroke-width="0.5"/>
<circle cx="47.4" cy="270.7" r="1.0" fill="#0000ff" fill-opacity="0.6" stroke="#0000ff" stroke-opacity="0.5" stroke-width="0.5"/>
<circle cx="96.5" cy="272.3" r="1.0" fill="#0000ff" fill-opacity="0.6" stroke="#0000ff" stroke-opacity="0.5" stroke-width="0.5"/>
<circle cx="46.0" cy="286.3" r="3.0" fill="#0000ff" fill-opacity="0.6" stroke="#0000ff" stroke-opacity="0.5" stroke-width="0.5"/>
<circle cx="41.4" cy="338.1" r="0.8" fill="#0000ff" fill-opacity="0.6" stroke="#0000ff" stroke-opacity="0.5" stroke-width="0.5"/>
<circle cx="41.6" cy="258.8" r="2.2" fill="#ff0000" fill-opacity="0.6" stroke="#ff0000" stroke-opacity="0.5" stroke-width="0.5"/>
<circle cx="102.3" cy="278.5" r="1.5" fill="#0000ff" fill-opacity="0.6" stroke="#0000ff" stroke-opacity="0.5" stroke-width="0.5"/>
<circle cx="82.0" cy="274.5" r="2.0" fill="#0000ff" fill-opacity="0.6" stroke="#0000ff" stroke-opacity="0.5" stroke-width="0.5"/>
<circle cx="163.5" cy="330.2" r="1.6" fill="#0000ff" fill-opacity="0.6" stroke="#0000ff" stroke-opacity="0.5" stroke-width="0.5"/>
<circle cx="86.8" cy="281.5" r="1.0" fill="#ff0000" fill-opacity="0.6" stroke="#ff0000" stroke-opacity="0.5" stroke-width="0.5"/>
<circle cx="150.1" cy="314.3" r="1.6" fill="#0000ff" fill-opacity="0.6" stroke="#0000ff" stroke-opacity="0.5" stroke-width="0.5"/>
<circle cx="46.4" cy="273.8" r="2.0" fill="#0000ff" fill-opacity="0.6" stroke="#0000ff" stroke-opacity="0.5" stroke-width="0.5"/>
<circle cx="175.7" cy="339.2" r="1.3" fill="#0000ff" fill-opacity="0.6" stroke="#0000ff" stroke-opacity="0.5" stroke-width="0.5"/>
<circle cx="63.2" cy="290.4" r="1.5" fill="#0000ff" fill-opacity="0.6" stroke="#0000ff" stroke-opacity="0.5" stroke-width="0.5"/>
<circle cx="168.5" cy="347.5" r="1.3" fill="#0000ff" fill-opacity="0.6" stroke="#0000ff" stroke-opacity="0.5" stroke-width="0.5"/>
<circle cx="46.9" cy="310.4" r="0.9" fill="#0000ff" fill-opacity="0.6" stroke="#0000ff" stroke-opacity="0.5" stroke-width="0.5"/>
<circle cx="32.3" cy="304.4" r="2.0" fill="#0000ff" fill-opacity="0.6" stroke="#0000ff" stroke-opacity="0.5" stroke-width="0.5"/>
<circle cx="61.3" cy="282.5" r="1.2" fill="#0000ff" fill-opacity="0.6" stroke="#0000ff" stroke-opacity="0.5" stroke-width="0.5"/>
<circle cx="81.0" cy="276.3" r="1.5" fill="#0000ff" fill-opacity="0.6" stroke="#0000ff" stroke-opacity="0.5" stroke-width="0.5"/>
<circle cx="49.1" cy="261.3" r="1.5" fill="#0000ff" fill-opacity="0.6" stroke="#0000ff" stroke-opacity="0.5" stroke-width="0.5"/>
<circle cx="74.1" cy="270.0" r="1.5" fill="#0000ff" fill-opacity="0.6" stroke="#0000ff" stroke-opacity="0.5" stroke-width="0.5"/>
<circle cx="162.8" cy="258.5" r="1.6" fill="#0000ff" fill-opacity="0.6" stroke="#0000ff" stroke-opacity="0.5" stroke-width="0.5"/>
<circle cx="74.1" cy="280.0" r="2.5" fill="#0000ff" fill-opacity="0.6" stroke="#0000ff" stroke-opacity="0.5" stroke-width="0.5"/>
<circle cx="173.9" cy="349.2" r="1.5" fill="#0000ff" fill-opacity="0.6" stroke="#0000ff" stroke-opacity="0.5" stroke-width="0.5"/>
<circle cx="176.6" cy="321.2" r="1.2" fill="#0000ff" fill-opacity="0.6" stroke="#0000ff" stroke-opacity="0.5" stroke-width="0.5"/>
<circle cx="161.2" cy="344.1" r="1.2" fill="#0000ff" fill-opacity="0.6" stroke="#0000ff" stroke-opacity="0.5" stroke-width="0.5"/>
<circle cx="148.5" cy="318.9" r="1.2" fill="#0000ff" fill-opacity="0.6" stroke="#0000ff" stroke-opacity="0.5" stroke-width="0.5"/>
<circle cx="51.5" cy="263.2" r="1.3" fill="#ff0000" fill-opacity="0.6" stroke="#ff0000" stroke-opacity="0.5" stroke-width="0.5"/>
<circle cx="32.3" cy="328.1" r="3.0" fill="#0000ff" fill-opacity="0.6" stroke="#0000ff" stroke-opacity="0.5" stroke-width="0.5"/>
<circle cx="44.8" cy="259.4" r="2.0" fill="#ff0000" fill-opacity="0.6" stroke="#ff0000" stroke-opacity="0.5" stroke-width="0.5"/>
<circle cx="31.0" cy="351.9" r="1.3" fill="#0000ff" fill-opacity="0.6" stroke="#0000ff" stroke-opacity="0.5" stroke-width="0.5"/>
<circle cx="64.8" cy="260.6" r="1.7" fill="#ff0000" fill-opacity="0.6" stroke="#ff0000" stroke-opacity="0.5" stroke-width="0.5"/>
<circle cx="55.4" cy="286.3" r="2.0" fill="#0000ff" fill-opacity="0.6" stroke="#0000ff" stroke-opacity="0.5" stroke-width="0.5"/>
<circle cx="62.9" cy="266.9" r="1.5" fill="#ff0000" fill-opacity="0.6" stroke="#ff0000" stroke-opacity="0.5" stroke-width="0.5"/>
<circle cx="45.0" cy="254.0" r="1.5" fill="#ff0000" fill-opacity="0.6" stroke="#ff0000" stroke-opacity="0.5" stroke-width="0.5"/>
<circle cx="148.5" cy="323.8" r="1.2" fill="#0000ff" fill-opacity="0.6" stroke="#0000ff" stroke-opacity="0.5" stroke-width="0.5"/>
<circle cx="66.0" cy="288.0" r="1.2" fill="#0000ff" fill-opacity="0.6" stroke="#0000ff" stroke-opacity="0.5" stroke-width="0.5"/>
<circle cx="36.6" cy="277.0" r="1.0" fill="#0000ff" fill-opacity="0.6" stroke="#0000ff" stroke-opacity="0.5" stroke-width="0.5"/>
<circle cx="40.4" cy="310.6" r="1.0" fill="#0000ff" fill-opacity="0.6" stroke="#0000ff" stroke-opacity="0.5" stroke-width="0.5"/>
<circle cx="76.6" cy="286.9" r="2.0" fill="#0000ff" fill-opacity="0.6" stroke="#0000ff" stroke-opacity="0.5" stroke-width="0.5"/>
<circle cx="110.4" cy="315.7" r="1.6" fill="#0000ff" fill-opacity="0.6" stroke="#0000ff" stroke-opacity="0.5" stroke-width="0.5"/>
<circle cx="70.8" cy="275.7" r="1.3" fill="#0000ff" fill-opacity="0.6" stroke="#0000ff" stroke-opacity="0.5" stroke-width="0.5"/>
<circle cx="40.0" cy="266.2" r="1.5" fill="#0000ff" fill-opacity="0.6" stroke="#0000ff" stroke-opacity="0.5" stroke-width="0.5"/>
<circle cx="50.8" cy="267.3" r="1.8" fill="#0000ff" fill-opacity="0.6" stroke="#0000ff" stroke-opacity="0.5" stroke-width="0.5"/>
<circle cx="43.5" cy="303.4" r="1.2" fill="#0000ff" fill-opacity="0.6" stroke="#0000ff" stroke-opacity="0.5" stroke-width="0.5"/>
<circle cx="49.8" cy="295.6" r="2.0" fill="#0000ff" fill-opacity="0.6" stroke="#0000ff" stroke-opacity="0.5" stroke-width="0.5"/>
<circle cx="39.1" cy="311.9" r="1.0" fill="#0000ff" fill-opacity="0.6" stroke="#0000ff" stroke-opacity="0.5" stroke-width="0.5"/>
<circle cx="87.9" cy="281.7" r="1.8" fill="#0000ff" fill-opacity="0.6" stroke="#0000ff" stroke-opacity="0.5" stroke-width="0.5"/>
<circle cx="39.1" cy="322.9" r="1.5" fill="#0000ff" fill-opacity="0.6" stroke="#0000ff" stroke-opacity="0.5" stroke-width="0.5"/>
<circle cx="67.4" cy="285.3" r="1.3" fill="#0000ff" fill-opacity="0.6" stroke="#0000ff" stroke-opacity="0.5" stroke-width="0.5"/>
<circle cx="46.0" cy="254.4" r="2.3" fill="#ff0000" fill-opacity="0.6" stroke="#ff0000" stroke-opacity="0.5" stroke-width="0.5"/>
<circle cx="73.5" cy="264.4" r="2.0" fill="#0000ff" fill-opacity="0.6" stroke="#0000ff" stroke-opacity="0.5" stroke-width="0.5"/>
<circle cx="72.5" cy="275.7" r="1.5" fill="#0000ff" fill-opacity="0.6" stroke="#0000ff" stroke-opacity="0.5" stroke-width="0.5"/>
<circle cx="47.6" cy="270.8" r="1.0" fill="#0000ff" fill-opacity="0.6" stroke="#0000ff" stroke-opacity="0.5" stroke-width="0.5"/>
<circle cx="174.5" cy="254.3" r="1.6" fill="#ff0000" fill-opacity="0.6" stroke="#ff0000" stroke-opacity="0.5" stroke-width="0.5"/>
<circle cx="69.1" cy="276.9" r="1.0" fill="#0000ff" fill-opacity="0.6" stroke="#0000ff" stroke-opacity="0.5" stroke-width="0.5"/>
<circle cx="50.1" cy="289.5" r="1.2" fill="#0000ff" fill-opacity="0.6" stroke="#0000ff" stroke-opacity="0.5" stroke-width="0.5"/>
<circle cx="49.1" cy="298.8" r="1.5" fill="#0000ff" fill-opacity="0.6" stroke="#0000ff" stroke-opacity="0.5" stroke-width="0.5"/>
<circle cx="71.3" cy="311.3" r="1.3" fill="#0000ff" fill-opacity="0.6" stroke="#0000ff" stroke-opacity="0.5" stroke-width="0.5"/>
<circle cx="84.5" cy="268.6" r="2.3" fill="#ff0000" fill-opacity="0.6" stroke="#ff0000" stroke-opacity="0.5" stroke-width="0.5"/>
<circle cx="84.5" cy="268.6" r="1.2" fill="#ff0000" fill-opacity="0.6" stroke="#ff0000" stroke-opacity="0.5" stroke-width="0.5"/>
<circle cx="76.6" cy="268.1" r="1.8" fill="#ff0000" fill-opacity="0.6" stroke="#ff0000" stroke-opacity="0.5" stroke-width="0.5"/>
<circle cx="69.8" cy="268.1" r="1.4" fill="#ff0000" fill-opacity="0.6" stroke="#ff0000" stroke-opacity="0.5" stroke-width="0.5"/>
<circle cx="62.9" cy="266.9" r="1.4" fill="#ff0000" fill-opacity="0.6" stroke="#ff0000" stroke-opacity="0.5" stroke-width="0.5"/>
<circle cx="64.8" cy="260.6" r="1.5" fill="#ff0000" fill-opacity="0.6" stroke="#ff0000" stroke-opacity="0.5" stroke-width="0.5"/>
<circle cx="53.5" cy="264.4" r="1.4" fill="#ff0000" fill-opacity="0.6" stroke="#ff0000" stroke-opacity="0.5" stroke-width="0.5"/>
<circle cx="52.3" cy="271.3" r="1.3" fill="#ff0000" fill-opacity="0.6" stroke="#ff0000" stroke-opacity="0.5" stroke-width="0.5"/>
<circle cx="44.1" cy="268.1" r="1.8" fill="#ff0000" fill-opacity="0.6" stroke="#ff0000" stroke-opacity="0.5" stroke-width="0.5"/>
<circle cx="49.5" cy="269.0" r="1.2" fill="#ff0000" fill-opacity="0.6" stroke="#ff0000" stroke-opacity="0.5" stroke-width="0.5"/>
<circle cx="56.6" cy="270.6" r="1.2" fill="#ff0000" fill-opacity="0.6" stroke="#ff0000" stroke-opacity="0.5" stroke-width="0.5"/>
<circle cx="47.3" cy="275.6" r="1.4" fill="#ff0000" fill-opacity="0.6" stroke="#ff0000" stroke-opacity="0.5" stroke-width="0.5"/>
<circle cx="45.4" cy="281.3" r="1.4" fill="#ff0000" fill-opacity="0.6" stroke="#ff0000" stroke-opacity="0.5" stroke-width="0.5"/>
<circle cx="33.5" cy="288.1" r="2.0" fill="#ff0000" fill-opacity="0.6" stroke="#ff0000" stroke-opacity="0.5" stroke-width="0.5"/>
<circle cx="35.0" cy="287.0" r="1.3" fill="#ff0000" fill-opacity="0.6" stroke="#ff0000" stroke-opacity="0.5" stroke-width="0.5"/>
<circle cx="46.0" cy="254.4" r="2.0" fill="#ff0000" fill-opacity="0.6" stroke="#ff0000" stroke-opacity="0.5" stroke-width="0.5"/>
<circle cx="47.9" cy="253.8" r="1.6" fill="#ff0000" fill-opacity="0.6" stroke="#ff0000" stroke-opacity="0.5" stroke-width="0.5"/>
<circle cx="54.8" cy="253.5" r="1.4" fill="#ff0000" fill-opacity="0.6" stroke="#ff0000" stroke-opacity="0.5" stroke-width="0.5"/>
<circle cx="41.6" cy="258.8" r="1.8" fill="#ff0000" fill-opacity="0.6" stroke="#ff0000" stroke-opacity="0.5" stroke-width="0.5"/>
<circle cx="37.9" cy="260.0" r="1.6" fill="#ff0000" fill-opacity="0.6" stroke="#ff0000" stroke-opacity="0.5" stroke-width="0.5"/>
<circle cx="44.8" cy="259.4" r="1.6" fill="#ff0000" fill-opacity="0.6" stroke="#ff0000" stroke-opacity="0.5" stroke-width="0.5"/>
<circle cx="54.1" cy="260.0" r="1.6" fill="#ff0000" fill-opacity="0.6" stroke="#ff0000" stroke-opacity="0.5" stroke-width="0.5"/>
<circle cx="49.1" cy="258.1" r="1.3" fill="#ff0000" fill-opacity="0.6" stroke="#ff0000" stroke-opacity="0.5" stroke-width="0.5"/>
<path d="M30.8 247.5V359.4H198.7" fill="none" stroke="#000" stroke-width="1.3"/>
<path d="M26.1 359.40H30.8M30.80 359.4V364.1M28.1 348.77H30.8M46.70 359.4V362.1M28.1 338.14H30.8M62.60 359.4V362.1M28.1 327.51H30.8M78.50 359.4V362.1M28.1 316.88H30.8M94.40 359.4V362.1M26.1 306.25H30.8M110.30 359.4V364.1M28.1 295.62H30.8M126.20 359.4V362.1M28.1 284.99H30.8M142.10 359.4V362.1M28.1 274.36H30.8M158.00 359.4V362.1M28.1 263.73H30.8M173.90 359.4V362.1M26.1 253.10H30.8M189.80 359.4V364.1" stroke="#000" stroke-width="1.25" fill="none"/>
<text x="25.1" y="362.6" class="tk" text-anchor="end">0.0</text>
<text x="30.8" y="373.7" class="tk" text-anchor="middle">0.0</text>
<text x="25.1" y="309.4" class="tk" text-anchor="end">0.5</text>
<text x="110.3" y="373.7" class="tk" text-anchor="middle">0.5</text>
<text x="25.1" y="256.3" class="tk" text-anchor="end">1.0</text>
<text x="189.8" y="373.7" class="tk" text-anchor="middle">1.0</text>
<text x="113.9" y="387.3" class="ax" text-anchor="middle">1-Specificity</text>
<text transform="translate(7.4 303.2) rotate(-90)" class="ax" text-anchor="middle">Sensitivity</text>
<text x="224.8" y="241.7" class="lh">Biomarker Type</text>
<circle cx="228.3" cy="254.3" r="3.8" fill="#ff0000" fill-opacity="0.5"/>
<text x="237.3" y="257.0" class="lt">Multi-biomarker panel</text>
<circle cx="228.3" cy="267.1" r="3.8" fill="#2020ff" fill-opacity="0.55"/>
<text x="237.3" y="269.8" class="lt">Single biomarker</text>
<text x="224.8" y="290.7" class="lh">Size of PDAC cohort</text>
<circle cx="230.6" cy="303.1" r="0.7" fill="#000"/>
<text x="241.3" y="306.0" class="ln">15.00</text>
<circle cx="230.6" cy="316.0" r="1.7" fill="#000"/>
<text x="241.3" y="318.7" class="ln">110.02</text>
<circle cx="230.6" cy="328.9" r="5.6" fill="#000"/>
<text x="241.3" y="331.4" class="ln">807.00</text>
<text x="357.0" y="12.0" class="pl">C</text>
<text x="414.2" y="11.9" class="ti">CA19-9 Biomarkers</text>
<path d="M421.1 36.1V49.7M421.1 65.4V115.6M417.90000000000003 36.1H424.3M417.90000000000003 115.6H424.3M414.5 54.3H427.70000000000005" stroke="#000" stroke-width="1.15" fill="none"/>
<rect x="414.5" y="49.7" width="13.2" height="15.7" fill="none" stroke="#000" stroke-width="1.15"/>
<path d="M443.8 33.1V41.6M443.8 53.5V101.1M440.6 33.1H447.0M440.6 101.1H447.0M437.3 48.2H450.3" stroke="#000" stroke-width="1.15" fill="none"/>
<rect x="437.3" y="41.6" width="13.0" height="11.9" fill="none" stroke="#000" stroke-width="1.15"/>
<path d="M483.4 33.1V41.6M483.4 68.1V116.7M480.2 33.1H486.59999999999997M480.2 116.7H486.59999999999997M477.29999999999995 52.7H489.5" stroke="#000" stroke-width="1.15" fill="none"/>
<rect x="477.29999999999995" y="41.6" width="12.2" height="26.6" fill="none" stroke="#000" stroke-width="1.15"/>
<path d="M506.5 33.1V39.3M506.5 53.5V115.3M503.3 33.1H509.7M503.3 115.3H509.7M500.2 45.3H512.8" stroke="#000" stroke-width="1.15" fill="none"/>
<rect x="500.2" y="39.3" width="12.6" height="14.2" fill="none" stroke="#000" stroke-width="1.15"/>
<path d="M419.00 34.80L421.90 34.80L420.45 37.41ZM418.88 36.71L421.78 36.71L420.33 39.32ZM419.47 38.43L422.37 38.43L420.92 41.04ZM418.62 40.84L421.52 40.84L420.07 43.45ZM421.33 40.36L424.23 40.36L422.78 42.97ZM417.64 42.42L420.54 42.42L419.09 45.03ZM419.87 42.48L422.77 42.48L421.32 45.09ZM421.51 42.65L424.41 42.65L422.96 45.26ZM418.07 46.60L420.97 46.60L419.52 49.21ZM421.15 46.59L424.05 46.59L422.60 49.20ZM418.12 48.84L421.02 48.84L419.57 51.45ZM421.27 48.98L424.17 48.98L422.72 51.59ZM415.31 50.69L418.21 50.69L416.76 53.30ZM417.37 50.76L420.27 50.76L418.82 53.37ZM421.87 50.83L424.77 50.83L423.32 53.44ZM423.60 50.94L426.50 50.94L425.05 53.55ZM415.12 53.07L418.02 53.07L416.57 55.68ZM417.38 52.92L420.28 52.92L418.83 55.53ZM422.00 53.21L424.90 53.21L423.45 55.82ZM424.00 52.67L426.90 52.67L425.45 55.28ZM419.42 54.42L422.32 54.42L420.87 57.03ZM417.27 56.67L420.17 56.67L418.72 59.28ZM419.36 56.72L422.26 56.72L420.81 59.33ZM422.12 57.06L425.02 57.06L423.57 59.67ZM417.49 58.64L420.39 58.64L418.94 61.25ZM419.97 58.45L422.87 58.45L421.42 61.06ZM421.56 58.53L424.46 58.53L423.01 61.14ZM417.76 60.32L420.66 60.32L419.21 62.93ZM421.28 60.83L424.18 60.83L422.73 63.44ZM417.85 62.87L420.75 62.87L419.30 65.48ZM419.34 63.13L422.24 63.13L420.79 65.74ZM421.72 63.04L424.62 63.04L423.17 65.65ZM418.17 64.89L421.07 64.89L419.62 67.50ZM418.76 66.62L421.66 66.62L420.21 69.23ZM419.21 68.34L422.11 68.34L420.66 70.95ZM419.59 70.63L422.49 70.63L421.04 73.24ZM419.95 74.28L422.85 74.28L421.40 76.89ZM419.25 77.99L422.15 77.99L420.70 80.60ZM419.85 81.71L422.75 81.71L421.30 84.32Z" fill="#0000ff" fill-opacity="0.5" stroke="#0000ff" stroke-width="0.65" stroke-linejoin="round"/><circle cx="421.02" cy="87.26" r="0.65" fill="#0000ff"/><circle cx="420.87" cy="91.51" r="0.65" fill="#0000ff"/><circle cx="421.31" cy="95.76" r="0.65" fill="#0000ff"/><circle cx="421.40" cy="101.07" r="0.65" fill="#0000ff"/><circle cx="421.08" cy="106.38" r="0.65" fill="#0000ff"/><circle cx="421.09" cy="110.63" r="0.65" fill="#0000ff"/><circle cx="420.85" cy="115.62" r="0.65" fill="#0000ff"/>
<path d="M440.76 34.34L442.86 34.34L441.81 32.45ZM442.42 34.45L444.52 34.45L443.47 32.56ZM444.33 34.08L446.43 34.08L445.38 32.19ZM441.31 35.87L443.41 35.87L442.36 33.98ZM442.58 35.43L444.68 35.43L443.63 33.54ZM444.72 35.57L446.82 35.57L445.77 33.68ZM440.28 37.33L442.38 37.33L441.33 35.44ZM442.24 37.32L444.34 37.32L443.29 35.43ZM443.68 36.80L445.78 36.80L444.73 34.91ZM444.92 36.62L447.02 36.62L445.97 34.73ZM440.80 38.72L442.90 38.72L441.85 36.83ZM442.71 38.94L444.81 38.94L443.76 37.05ZM444.85 38.42L446.95 38.42L445.90 36.53ZM440.63 39.78L442.73 39.78L441.68 37.89ZM443.03 40.35L445.13 40.35L444.08 38.46ZM444.76 40.31L446.86 40.31L445.81 38.42ZM441.22 41.80L443.32 41.80L442.27 39.91ZM442.73 41.26L444.83 41.26L443.78 39.37ZM444.45 41.82L446.55 41.82L445.50 39.93ZM439.06 43.45L441.16 43.45L440.11 41.56ZM440.71 42.71L442.81 42.71L441.76 40.82ZM443.03 43.32L445.13 43.32L444.08 41.43ZM444.79 43.48L446.89 43.48L445.84 41.59ZM446.27 43.09L448.37 43.09L447.32 41.20ZM440.24 44.68L442.34 44.68L441.29 42.79ZM442.11 44.49L444.21 44.49L443.16 42.60ZM443.92 44.28L446.02 44.28L444.97 42.39ZM445.45 44.31L447.55 44.31L446.50 42.42ZM439.33 45.71L441.43 45.71L440.38 43.82ZM440.97 46.01L443.07 46.01L442.02 44.12ZM443.03 45.97L445.13 45.97L444.08 44.08ZM444.43 46.07L446.53 46.07L445.48 44.18ZM445.78 45.99L447.88 45.99L446.83 44.10ZM439.35 47.25L441.45 47.25L440.40 45.36ZM441.10 47.60L443.20 47.60L442.15 45.71ZM442.76 47.59L444.86 47.59L443.81 45.70ZM444.28 47.60L446.38 47.60L445.33 45.71ZM446.20 47.79L448.30 47.79L447.25 45.90ZM437.98 49.42L440.08 49.42L439.03 47.53ZM439.53 49.05L441.63 49.05L440.58 47.16ZM441.23 49.00L443.33 49.00L442.28 47.11ZM442.73 49.44L444.83 49.44L443.78 47.55ZM444.66 49.44L446.76 49.44L445.71 47.55ZM446.09 49.44L448.19 49.44L447.14 47.55ZM447.45 48.70L449.55 48.70L448.50 46.81ZM437.72 50.16L439.82 50.16L438.77 48.27ZM439.72 50.90L441.82 50.90L440.77 49.01ZM441.28 50.69L443.38 50.69L442.33 48.80ZM443.02 50.97L445.12 50.97L444.07 49.08ZM444.68 50.45L446.78 50.45L445.73 48.56ZM446.33 50.84L448.43 50.84L447.38 48.95ZM447.55 50.56L449.65 50.56L448.60 48.67ZM438.42 52.24L440.52 52.24L439.47 50.35ZM440.27 51.99L442.37 51.99L441.32 50.10ZM441.79 52.16L443.89 52.16L442.84 50.27ZM443.29 52.48L445.39 52.48L444.34 50.59ZM445.60 51.69L447.70 51.69L446.65 49.80ZM446.63 52.30L448.73 52.30L447.68 50.41ZM440.08 53.92L442.18 53.92L441.13 52.03ZM441.71 53.23L443.81 53.23L442.76 51.34ZM443.67 53.73L445.77 53.73L444.72 51.84ZM445.05 53.71L447.15 53.71L446.10 51.82ZM441.88 55.17L443.98 55.17L442.93 53.28ZM443.64 55.37L445.74 55.37L444.69 53.48ZM441.98 56.40L444.08 56.40L443.03 54.51ZM443.79 56.34L445.89 56.34L444.84 54.45ZM441.91 57.69L444.01 57.69L442.96 55.80ZM443.09 57.78L445.19 57.78L444.14 55.89ZM442.34 59.36L444.44 59.36L443.39 57.47ZM443.12 59.41L445.22 59.41L444.17 57.52ZM441.97 61.25L444.07 61.25L443.02 59.36ZM442.97 61.02L445.07 61.02L444.02 59.13ZM442.31 62.54L444.41 62.54L443.36 60.65ZM442.77 64.48L444.87 64.48L443.82 62.59ZM443.05 66.97L445.15 66.97L444.10 65.08ZM442.55 70.15L444.65 70.15L443.60 68.26Z" fill="#ff0000" stroke="#ff0000" stroke-width="0.35" stroke-linejoin="round"/><circle cx="443.71" cy="72.39" r="0.65" fill="#ff0000"/><circle cx="444.00" cy="75.58" r="0.65" fill="#ff0000"/><circle cx="443.92" cy="78.77" r="0.65" fill="#ff0000"/><circle cx="443.88" cy="81.95" r="0.65" fill="#ff0000"/><circle cx="443.74" cy="85.14" r="0.65" fill="#ff0000"/><circle cx="443.71" cy="89.39" r="0.65" fill="#ff0000"/><circle cx="443.53" cy="92.57" r="0.65" fill="#ff0000"/><circle cx="443.58" cy="96.82" r="0.65" fill="#ff0000"/><circle cx="443.54" cy="101.07" r="0.65" fill="#ff0000"/>
<path d="M479.87 31.42L482.77 31.42L481.32 34.03ZM484.05 31.95L486.95 31.95L485.50 34.56ZM478.36 33.96L481.26 33.96L479.81 36.57ZM482.93 34.41L485.83 34.41L484.38 37.02ZM485.43 33.77L488.33 33.77L486.88 36.38ZM477.60 35.75L480.50 35.75L479.05 38.36ZM480.52 36.20L483.42 36.20L481.97 38.81ZM485.85 35.98L488.75 35.98L487.30 38.59ZM478.40 37.97L481.30 37.97L479.85 40.58ZM480.69 38.47L483.59 38.47L482.14 41.08ZM483.20 38.54L486.10 38.54L484.65 41.15ZM485.44 38.30L488.34 38.30L486.89 40.91ZM479.10 40.80L482.00 40.80L480.55 43.41ZM481.63 40.90L484.53 40.90L483.08 43.51ZM484.64 40.81L487.54 40.81L486.09 43.42ZM481.95 43.10L484.85 43.10L483.40 45.71ZM485.21 42.87L488.11 42.87L486.66 45.48ZM478.99 44.75L481.89 44.75L480.44 47.36ZM481.99 47.31L484.89 47.31L483.44 49.92ZM484.71 47.19L487.61 47.19L486.16 49.80ZM479.80 49.40L482.70 49.40L481.25 52.01ZM482.06 49.00L484.96 49.00L483.51 51.61ZM484.10 49.01L487.00 49.01L485.55 51.62ZM479.19 51.81L482.09 51.81L480.64 54.42ZM481.95 51.49L484.85 51.49L483.40 54.10ZM484.63 51.84L487.53 51.84L486.08 54.45ZM479.89 53.48L482.79 53.48L481.34 56.09ZM483.88 53.62L486.78 53.62L485.33 56.23ZM480.56 58.35L483.46 58.35L482.01 60.96ZM483.49 58.16L486.39 58.16L484.94 60.77ZM483.34 60.83L486.24 60.83L484.79 63.44ZM483.98 63.02L486.88 63.02L485.43 65.63ZM480.21 65.20L483.11 65.20L481.66 67.81ZM483.84 66.66L486.74 66.66L485.29 69.27ZM480.80 69.38L483.70 69.38L482.25 71.99ZM483.65 69.18L486.55 69.18L485.10 71.79ZM482.68 71.22L485.58 71.22L484.13 73.83ZM482.03 73.15L484.93 73.15L483.48 75.76ZM482.75 77.46L485.65 77.46L484.20 80.07ZM482.45 82.24L485.35 82.24L483.90 84.85ZM480.45 82.24L483.35 82.24L481.90 84.85ZM482.75 87.02L485.65 87.02L484.20 89.63ZM480.75 87.02L483.65 87.02L482.20 89.63ZM482.25 91.59L485.15 91.59L483.70 94.20Z" fill="#0000ff" fill-opacity="0.12" stroke="#0000ff" stroke-width="0.65" stroke-linejoin="round"/><circle cx="483.55" cy="96.82" r="0.65" fill="#0000ff"/><circle cx="483.60" cy="101.07" r="0.65" fill="#0000ff"/><circle cx="483.17" cy="104.25" r="0.65" fill="#0000ff"/><circle cx="483.66" cy="108.50" r="0.65" fill="#0000ff"/><circle cx="483.53" cy="111.16" r="0.65" fill="#0000ff"/><circle cx="483.64" cy="115.94" r="0.65" fill="#0000ff"/>
<path d="M501.56 34.49L503.66 34.49L502.61 32.60ZM503.45 33.98L505.55 33.98L504.50 32.09ZM505.13 33.69L507.23 33.69L506.18 31.80ZM507.21 34.44L509.31 34.44L508.26 32.55ZM509.10 34.05L511.20 34.05L510.15 32.16ZM502.08 35.89L504.18 35.89L503.13 34.00ZM503.70 35.92L505.80 35.92L504.75 34.03ZM505.48 35.74L507.58 35.74L506.53 33.85ZM509.10 35.77L511.20 35.77L510.15 33.88ZM500.86 37.43L502.96 37.43L501.91 35.54ZM504.49 36.86L506.59 36.86L505.54 34.97ZM506.64 36.83L508.74 36.83L507.69 34.94ZM507.87 37.10L509.97 37.10L508.92 35.21ZM509.49 36.74L511.59 36.74L510.54 34.85ZM501.74 38.29L503.84 38.29L502.79 36.40ZM503.94 38.50L506.04 38.50L504.99 36.61ZM507.02 38.40L509.12 38.40L508.07 36.51ZM501.62 40.39L503.72 40.39L502.67 38.50ZM503.06 39.97L505.16 39.97L504.11 38.08ZM504.59 39.90L506.69 39.90L505.64 38.01ZM508.10 39.71L510.20 39.71L509.15 37.82ZM509.42 40.37L511.52 40.37L510.47 38.48ZM501.12 41.45L503.22 41.45L502.17 39.56ZM503.28 41.86L505.38 41.86L504.33 39.97ZM504.29 41.12L506.39 41.12L505.34 39.23ZM506.56 41.52L508.66 41.52L507.61 39.63ZM507.59 41.45L509.69 41.45L508.64 39.56ZM509.83 41.86L511.93 41.86L510.88 39.97ZM499.94 42.73L502.04 42.73L500.99 40.84ZM502.08 43.44L504.18 43.44L503.13 41.55ZM503.81 43.28L505.91 43.28L504.86 41.39ZM505.49 42.63L507.59 42.63L506.54 40.74ZM507.01 43.42L509.11 43.42L508.06 41.53ZM508.81 42.71L510.91 42.71L509.86 40.82ZM510.79 43.22L512.89 43.22L511.84 41.33ZM503.11 44.44L505.21 44.44L504.16 42.55ZM504.72 44.10L506.82 44.10L505.77 42.21ZM506.22 44.96L508.32 44.96L507.27 43.07ZM508.12 44.52L510.22 44.52L509.17 42.63ZM509.27 44.96L511.37 44.96L510.32 43.07ZM500.26 46.04L502.36 46.04L501.31 44.15ZM502.16 45.83L504.26 45.83L503.21 43.94ZM504.13 45.80L506.23 45.80L505.18 43.91ZM507.01 46.21L509.11 46.21L508.06 44.32ZM508.89 46.26L510.99 46.26L509.94 44.37ZM510.10 46.47L512.20 46.47L511.15 44.58ZM500.97 47.29L503.07 47.29L502.02 45.40ZM502.73 47.95L504.83 47.95L503.78 46.06ZM504.37 47.30L506.47 47.30L505.42 45.41ZM506.42 47.95L508.52 47.95L507.47 46.06ZM509.54 47.97L511.64 47.97L510.59 46.08ZM504.92 49.39L507.02 49.39L505.97 47.50ZM506.61 49.43L508.71 49.43L507.66 47.54ZM507.66 49.44L509.76 49.44L508.71 47.55ZM509.17 49.19L511.27 49.19L510.22 47.30ZM500.95 50.25L503.05 50.25L502.00 48.36ZM504.47 50.95L506.57 50.95L505.52 49.06ZM507.88 50.42L509.98 50.42L508.93 48.53ZM510.06 50.48L512.16 50.48L511.11 48.59ZM501.45 52.42L503.55 52.42L502.50 50.53ZM503.01 52.40L505.11 52.40L504.06 50.51ZM506.45 52.29L508.55 52.29L507.50 50.40ZM501.35 53.77L503.45 53.77L502.40 51.88ZM502.98 53.34L505.08 53.34L504.03 51.45ZM504.75 53.33L506.85 53.33L505.80 51.44ZM506.11 53.34L508.21 53.34L507.16 51.45ZM509.67 53.67L511.77 53.67L510.72 51.78ZM503.59 55.46L505.69 55.46L504.64 53.57ZM505.37 54.82L507.47 54.82L506.42 52.93ZM507.29 55.43L509.39 55.43L508.34 53.54ZM509.35 55.26L511.45 55.26L510.40 53.37ZM502.94 56.39L505.04 56.39L503.99 54.50ZM504.49 56.80L506.59 56.80L505.54 54.91ZM508.22 56.32L510.32 56.32L509.27 54.43ZM505.33 58.48L507.43 58.48L506.38 56.59ZM507.30 57.83L509.40 57.83L508.35 55.94ZM506.60 59.50L508.70 59.50L507.65 57.61ZM504.78 61.20L506.88 61.20L505.83 59.31ZM506.45 61.19L508.55 61.19L507.50 59.30ZM504.75 62.61L506.85 62.61L505.80 60.72ZM506.17 62.27L508.27 62.27L507.22 60.38ZM505.46 64.12L507.56 64.12L506.51 62.23ZM505.35 65.30L507.45 65.30L506.40 63.41ZM505.85 68.56L507.95 68.56L506.90 66.67ZM505.15 71.75L507.25 71.75L506.20 69.86Z" fill="#ff0000" stroke="#ff0000" stroke-width="0.35" stroke-linejoin="round"/><circle cx="506.69" cy="73.46" r="0.65" fill="#ff0000"/><circle cx="506.59" cy="76.64" r="0.65" fill="#ff0000"/><circle cx="506.79" cy="79.83" r="0.65" fill="#ff0000"/><circle cx="506.26" cy="83.01" r="0.65" fill="#ff0000"/><circle cx="506.48" cy="86.20" r="0.65" fill="#ff0000"/><circle cx="506.69" cy="89.39" r="0.65" fill="#ff0000"/><circle cx="506.70" cy="92.57" r="0.65" fill="#ff0000"/><circle cx="506.75" cy="95.76" r="0.65" fill="#ff0000"/><circle cx="506.22" cy="98.94" r="0.65" fill="#ff0000"/><circle cx="506.38" cy="102.13" r="0.65" fill="#ff0000"/><circle cx="506.27" cy="106.38" r="0.65" fill="#ff0000"/><circle cx="506.31" cy="110.63" r="0.65" fill="#ff0000"/><circle cx="506.78" cy="115.30" r="0.65" fill="#ff0000"/>
<path d="M408.0 27.3V139.3H520" fill="none" stroke="#000" stroke-width="1.4"/>
<path d="M403.4 139.30H408.0M405.6 133.99H408.0M405.6 128.68H408.0M405.6 123.37H408.0M405.6 118.06H408.0M405.6 112.75H408.0M405.6 107.44H408.0M405.6 102.13H408.0M405.6 96.82H408.0M405.6 91.51H408.0M403.4 86.20H408.0M405.6 80.89H408.0M405.6 75.58H408.0M405.6 70.27H408.0M405.6 64.96H408.0M405.6 59.65H408.0M405.6 54.34H408.0M405.6 49.03H408.0M405.6 43.72H408.0M405.6 38.41H408.0M403.4 33.10H408.0M421.1 139.3V143.9M443.8 139.3V143.9M483.4 139.3V143.9M506.5 139.3V143.9" stroke="#000" stroke-width="1.2" fill="none"/>
<text x="402.4" y="142.5" class="tk" text-anchor="end">0.0</text>
<text x="402.4" y="89.4" class="tk" text-anchor="end">0.5</text>
<text x="402.4" y="36.3" class="tk" text-anchor="end">1.0</text>
<text transform="translate(384.2 82.4) rotate(-90)" class="ax2" text-anchor="middle">Sensitivity / Specificity</text>
<text x="420.7" y="152.2" class="gl" text-anchor="middle">Single</text>
<text x="443.90000000000003" y="152.2" class="gl" text-anchor="middle">Multi</text>
<path d="M408.1 155.9V163.8H453.1V155.9" fill="none" stroke="#000" stroke-width="0.9" stroke-dasharray="1.6 1.1"/>
<text x="429.4" y="172.2" class="gs" text-anchor="middle">Sensitivity</text>
<text x="483.09999999999997" y="152.2" class="gl" text-anchor="middle">Single</text>
<text x="506.7" y="152.2" class="gl" text-anchor="middle">Multi</text>
<path d="M471.1 155.9V163.8H516.1V155.9" fill="none" stroke="#000" stroke-width="0.9" stroke-dasharray="1.6 1.1"/>
<text x="494.3" y="172.2" class="gs" text-anchor="middle">Specificity</text>
<text x="357.3" y="231.3" class="pl">D</text>
<text x="417.8" y="232.3" class="ti">Novel Biomarkers</text>
<path d="M421.1 253.1V271.5M421.1 308.5V359.3M417.90000000000003 253.1H424.3M417.90000000000003 359.3H424.3M414.5 285.4H427.70000000000005" stroke="#000" stroke-width="0.9" fill="none"/>
<rect x="414.5" y="271.5" width="13.2" height="37.1" fill="none" stroke="#000" stroke-width="0.9"/>
<path d="M443.8 253.1V255.8M443.8 273.5V340.8M438.0 253.1H449.6M440.6 340.8H447.0M437.3 266.3H450.3" stroke="#000" stroke-width="0.9" fill="none"/>
<rect x="437.3" y="255.8" width="13.0" height="17.7" fill="none" stroke="#000" stroke-width="0.9"/>
<path d="M483.4 253.1V261.2M483.4 283.8V352.4M477.29999999999995 253.1H489.5M480.2 352.4H486.59999999999997M477.29999999999995 273.2H489.5" stroke="#000" stroke-width="0.9" fill="none"/>
<rect x="477.29999999999995" y="261.2" width="12.2" height="22.6" fill="none" stroke="#000" stroke-width="0.9"/>
<path d="M506.4 253.1V262.3M506.4 270.4V349.2M503.2 253.1H509.59999999999997M503.2 349.2H509.59999999999997M500.0 263.9H512.8" stroke="#000" stroke-width="0.9" fill="none"/>
<rect x="500.0" y="262.3" width="12.8" height="8.1" fill="none" stroke="#000" stroke-width="0.9"/>
<path d="M417.86 252.44L420.06 252.44L418.96 254.42ZM419.83 252.36L422.03 252.36L420.93 254.34ZM421.77 252.20L423.97 252.20L422.87 254.18ZM419.22 253.39L421.42 253.39L420.32 255.37ZM420.52 253.80L422.72 253.80L421.62 255.78ZM418.96 255.15L421.16 255.15L420.06 257.13ZM420.48 255.14L422.68 255.14L421.58 257.12ZM419.43 256.52L421.63 256.52L420.53 258.50ZM420.53 256.96L422.73 256.96L421.63 258.94ZM419.07 258.69L421.27 258.69L420.17 260.67ZM420.54 258.34L422.74 258.34L421.64 260.32ZM419.29 259.98L421.49 259.98L420.39 261.96ZM421.02 260.56L423.22 260.56L422.12 262.54ZM418.61 261.44L420.81 261.44L419.71 263.42ZM420.28 261.64L422.48 261.64L421.38 263.62ZM421.48 262.05L423.68 262.05L422.58 264.03ZM418.07 263.36L420.27 263.36L419.17 265.34ZM420.29 262.94L422.49 262.94L421.39 264.92ZM421.50 263.31L423.70 263.31L422.60 265.29ZM418.58 265.29L420.78 265.29L419.68 267.27ZM419.99 265.18L422.19 265.18L421.09 267.16ZM421.22 264.57L423.42 264.57L422.32 266.55ZM418.15 266.11L420.35 266.11L419.25 268.09ZM419.92 266.87L422.12 266.87L421.02 268.85ZM422.07 266.20L424.27 266.20L423.17 268.18ZM418.17 268.42L420.37 268.42L419.27 270.40ZM419.78 267.86L421.98 267.86L420.88 269.84ZM421.77 268.01L423.97 268.01L422.87 269.99ZM417.11 270.07L419.31 270.07L418.21 272.05ZM419.03 269.94L421.23 269.94L420.13 271.92ZM421.25 269.37L423.45 269.37L422.35 271.35ZM423.09 269.82L425.29 269.82L424.19 271.80ZM415.54 271.24L417.74 271.24L416.64 273.22ZM417.25 271.25L419.45 271.25L418.35 273.23ZM419.18 271.30L421.38 271.30L420.28 273.28ZM421.09 271.56L423.29 271.56L422.19 273.54ZM422.48 271.29L424.68 271.29L423.58 273.27ZM424.25 271.25L426.45 271.25L425.35 273.23ZM415.86 272.50L418.06 272.50L416.96 274.48ZM417.64 273.12L419.84 273.12L418.74 275.10ZM420.01 272.51L422.21 272.51L421.11 274.49ZM421.99 273.32L424.19 273.32L423.09 275.30ZM424.39 273.36L426.59 273.36L425.49 275.34ZM414.73 274.94L416.93 274.94L415.83 276.92ZM417.29 274.88L419.49 274.88L418.39 276.86ZM419.19 274.90L421.39 274.90L420.29 276.88ZM420.91 274.74L423.11 274.74L422.01 276.72ZM423.31 274.31L425.51 274.31L424.41 276.29ZM424.80 274.51L427.00 274.51L425.90 276.49ZM414.56 276.12L416.76 276.12L415.66 278.10ZM416.16 275.82L418.36 275.82L417.26 277.80ZM418.55 276.27L420.75 276.27L419.65 278.25ZM419.77 276.37L421.97 276.37L420.87 278.35ZM421.78 276.23L423.98 276.23L422.88 278.21ZM423.78 276.16L425.98 276.16L424.88 278.14ZM425.54 275.75L427.74 275.75L426.64 277.73ZM414.60 277.98L416.80 277.98L415.70 279.96ZM416.79 277.78L418.99 277.78L417.89 279.76ZM418.41 277.66L420.61 277.66L419.51 279.64ZM420.17 277.30L422.37 277.30L421.27 279.28ZM421.60 277.84L423.80 277.84L422.70 279.82ZM423.61 277.86L425.81 277.86L424.71 279.84ZM424.98 277.29L427.18 277.29L426.08 279.27ZM415.90 279.32L418.10 279.32L417.00 281.30ZM417.72 279.06L419.92 279.06L418.82 281.04ZM419.67 278.86L421.87 278.86L420.77 280.84ZM421.75 279.18L423.95 279.18L422.85 281.16ZM424.11 279.39L426.31 279.39L425.21 281.37ZM415.90 280.58L418.10 280.58L417.00 282.56ZM417.78 280.59L419.98 280.59L418.88 282.57ZM420.10 281.24L422.30 281.24L421.20 283.22ZM421.97 280.70L424.17 280.70L423.07 282.68ZM424.19 280.97L426.39 280.97L425.29 282.95ZM415.72 282.90L417.92 282.90L416.82 284.88ZM417.70 282.87L419.90 282.87L418.80 284.85ZM420.02 282.43L422.22 282.43L421.12 284.41ZM421.81 282.76L424.01 282.76L422.91 284.74ZM424.28 282.91L426.48 282.91L425.38 284.89ZM416.17 284.12L418.37 284.12L417.27 286.10ZM418.27 283.82L420.47 283.82L419.37 285.80ZM419.86 283.70L422.06 283.70L420.96 285.68ZM422.15 284.30L424.35 284.30L423.25 286.28ZM424.15 284.33L426.35 284.33L425.25 286.31ZM415.66 285.46L417.86 285.46L416.76 287.44ZM417.23 285.29L419.43 285.29L418.33 287.27ZM419.31 285.89L421.51 285.89L420.41 287.87ZM421.01 285.50L423.21 285.50L422.11 287.48ZM422.54 285.97L424.74 285.97L423.64 287.95ZM424.14 285.84L426.34 285.84L425.24 287.82ZM415.33 286.87L417.53 286.87L416.43 288.85ZM416.85 287.53L419.05 287.53L417.95 289.51ZM419.19 287.15L421.39 287.15L420.29 289.13ZM420.87 287.08L423.07 287.08L421.97 289.06ZM423.05 287.48L425.25 287.48L424.15 289.46ZM425.27 287.28L427.47 287.28L426.37 289.26ZM415.98 288.85L418.18 288.85L417.08 290.83ZM417.91 288.74L420.11 288.74L419.01 290.72ZM420.09 288.53L422.29 288.53L421.19 290.51ZM421.89 288.48L424.09 288.48L422.99 290.46ZM424.57 288.77L426.77 288.77L425.67 290.75ZM417.12 290.68L419.32 290.68L418.22 292.66ZM419.28 290.72L421.48 290.72L420.38 292.70ZM420.92 290.39L423.12 290.39L422.02 292.37ZM422.79 290.86L424.99 290.86L423.89 292.84ZM418.63 292.51L420.83 292.51L419.73 294.49ZM419.79 291.76L421.99 291.76L420.89 293.74ZM421.90 292.39L424.10 292.39L423.00 294.37ZM418.35 293.52L420.55 293.52L419.45 295.50ZM419.72 293.94L421.92 293.94L420.82 295.92ZM421.62 293.64L423.82 293.64L422.72 295.62ZM418.47 295.50L420.67 295.50L419.57 297.48ZM421.25 295.73L423.45 295.73L422.35 297.71ZM418.50 296.49L420.70 296.49L419.60 298.47ZM419.96 297.16L422.16 297.16L421.06 299.14ZM421.72 296.94L423.92 296.94L422.82 298.92ZM418.32 298.80L420.52 298.80L419.42 300.78ZM421.04 298.24L423.24 298.24L422.14 300.22ZM418.05 300.10L420.25 300.10L419.15 302.08ZM420.21 299.83L422.41 299.83L421.31 301.81ZM421.50 300.41L423.70 300.41L422.60 302.39ZM418.52 301.45L420.72 301.45L419.62 303.43ZM421.32 301.36L423.52 301.36L422.42 303.34ZM418.86 303.49L421.06 303.49L419.96 305.47ZM421.43 303.18L423.63 303.18L422.53 305.16ZM419.19 304.54L421.39 304.54L420.29 306.52ZM420.75 304.65L422.95 304.65L421.85 306.63ZM419.13 306.40L421.33 306.40L420.23 308.38ZM420.69 306.47L422.89 306.47L421.79 308.45ZM419.66 308.24L421.86 308.24L420.76 310.22ZM420.39 307.80L422.59 307.80L421.49 309.78ZM419.93 309.65L422.13 309.65L421.03 311.63ZM420.05 311.66L422.25 311.66L421.15 313.64ZM419.83 313.22L422.03 313.22L420.93 315.20ZM419.53 314.53L421.73 314.53L420.63 316.51ZM416.80 301.57L419.00 301.57L417.90 303.55ZM418.40 301.64L420.60 301.64L419.50 303.62ZM420.00 301.58L422.20 301.58L421.10 303.56ZM421.60 301.90L423.80 301.90L422.70 303.88ZM423.20 301.80L425.40 301.80L424.30 303.78ZM418.40 321.72L420.60 321.72L419.50 323.70ZM420.00 322.07L422.20 322.07L421.10 324.05ZM421.60 321.72L423.80 321.72L422.70 323.70ZM419.00 326.40L421.20 326.40L420.10 328.38ZM421.00 326.64L423.20 326.64L422.10 328.62ZM418.80 330.82L421.00 330.82L419.90 332.80ZM420.00 330.79L422.20 330.79L421.10 332.77ZM421.20 330.67L423.40 330.67L422.30 332.65ZM419.10 334.82L421.30 334.82L420.20 336.80ZM420.90 335.00L423.10 335.00L422.00 336.98ZM418.90 339.04L421.10 339.04L420.00 341.02ZM421.10 339.08L423.30 339.08L422.20 341.06ZM419.00 343.40L421.20 343.40L420.10 345.38ZM421.00 343.26L423.20 343.26L422.10 345.24ZM418.90 347.12L421.10 347.12L420.00 349.10ZM421.10 347.28L423.30 347.28L422.20 349.26ZM418.80 350.95L421.00 350.95L419.90 352.93ZM420.00 350.88L422.20 350.88L421.10 352.86ZM421.20 350.93L423.40 350.93L422.30 352.91ZM419.20 354.58L421.40 354.58L420.30 356.56ZM420.80 354.45L423.00 354.45L421.90 356.43ZM420.20 317.95L422.40 317.95L421.30 319.93ZM419.70 319.55L421.90 319.55L420.80 321.53ZM420.20 323.80L422.40 323.80L421.30 325.78ZM419.80 328.57L422.00 328.57L420.90 330.55ZM420.30 332.82L422.50 332.82L421.40 334.80ZM420.00 337.07L422.20 337.07L421.10 339.05ZM420.20 341.32L422.40 341.32L421.30 343.30ZM419.80 345.57L422.00 345.57L420.90 347.55ZM420.10 348.96L422.30 348.96L421.20 350.94ZM420.00 352.79L422.20 352.79L421.10 354.77ZM420.20 356.72L422.40 356.72L421.30 358.70ZM420.00 359.37L422.20 359.37L421.10 361.35Z" fill="#0000ff" stroke="#0000ff" stroke-width="0.35" stroke-linejoin="round"/><circle cx="421.16" cy="362.49" r="0.65" fill="#0000ff"/>
<path d="M441.52 255.53L443.52 255.53L442.52 253.73ZM442.97 255.52L444.97 255.52L443.97 253.72ZM444.52 255.94L446.52 255.94L445.52 254.14ZM441.29 257.45L443.29 257.45L442.29 255.65ZM442.77 257.12L444.77 257.12L443.77 255.32ZM444.27 257.22L446.27 257.22L445.27 255.42ZM441.13 258.77L443.13 258.77L442.13 256.97ZM442.77 259.10L444.77 259.10L443.77 257.30ZM444.68 259.38L446.68 259.38L445.68 257.58ZM441.54 260.59L443.54 260.59L442.54 258.79ZM443.13 260.28L445.13 260.28L444.13 258.48ZM444.02 260.95L446.02 260.95L445.02 259.15ZM440.68 262.46L442.68 262.46L441.68 260.66ZM442.95 262.40L444.95 262.40L443.95 260.60ZM444.87 262.41L446.87 262.41L445.87 260.61ZM440.57 264.26L442.57 264.26L441.57 262.46ZM442.98 263.75L444.98 263.75L443.98 261.95ZM444.73 263.69L446.73 263.69L445.73 261.89ZM440.52 265.72L442.52 265.72L441.52 263.92ZM442.94 265.66L444.94 265.66L443.94 263.86ZM444.55 266.01L446.55 266.01L445.55 264.21ZM440.27 267.76L442.27 267.76L441.27 265.96ZM442.60 267.16L444.60 267.16L443.60 265.36ZM445.35 267.61L447.35 267.61L446.35 265.81ZM440.88 269.61L442.88 269.61L441.88 267.81ZM442.90 269.48L444.90 269.48L443.90 267.68ZM444.51 269.01L446.51 269.01L445.51 267.21ZM441.39 270.76L443.39 270.76L442.39 268.96ZM442.64 270.78L444.64 270.78L443.64 268.98ZM444.39 270.61L446.39 270.61L445.39 268.81ZM441.29 272.36L443.29 272.36L442.29 270.56ZM444.15 272.53L446.15 272.53L445.15 270.73ZM441.02 274.68L443.02 274.68L442.02 272.88ZM442.49 274.59L444.49 274.59L443.49 272.79ZM444.68 273.97L446.68 273.97L445.68 272.17ZM442.59 276.40L444.59 276.40L443.59 274.60ZM442.30 277.45L444.30 277.45L443.30 275.65ZM442.93 279.66L444.93 279.66L443.93 277.86ZM443.39 281.24L445.39 281.24L444.39 279.44ZM437.50 255.22L439.50 255.22L438.50 253.42ZM439.01 255.18L441.01 255.18L440.01 253.38ZM440.53 255.20L442.53 255.20L441.53 253.40ZM442.04 254.94L444.04 254.94L443.04 253.14ZM443.56 255.14L445.56 255.14L444.56 253.34ZM445.07 255.07L447.07 255.07L446.07 253.27ZM446.59 255.16L448.59 255.16L447.59 253.36ZM448.10 255.04L450.10 255.04L449.10 253.24ZM438.50 270.40L440.50 270.40L439.50 268.60ZM439.93 270.27L441.93 270.27L440.93 268.47ZM441.37 270.15L443.37 270.15L442.37 268.35ZM442.80 270.14L444.80 270.14L443.80 268.34ZM444.23 270.10L446.23 270.10L445.23 268.30ZM445.67 270.25L447.67 270.25L446.67 268.45ZM447.10 270.07L449.10 270.07L448.10 268.27Z" fill="#ff0000" stroke="#ff0000" stroke-width="0.35" stroke-linejoin="round"/><circle cx="443.78" cy="282.84" r="0.65" fill="#ff0000"/><circle cx="443.59" cy="284.96" r="0.65" fill="#ff0000"/><circle cx="443.79" cy="287.08" r="0.65" fill="#ff0000"/><circle cx="443.80" cy="289.21" r="0.65" fill="#ff0000"/><circle cx="443.82" cy="291.33" r="0.65" fill="#ff0000"/><circle cx="444.02" cy="294.52" r="0.65" fill="#ff0000"/><circle cx="443.50" cy="297.70" r="0.65" fill="#ff0000"/><circle cx="444.00" cy="300.89" r="0.65" fill="#ff0000"/><circle cx="443.78" cy="304.08" r="0.65" fill="#ff0000"/><circle cx="443.84" cy="307.26" r="0.65" fill="#ff0000"/><circle cx="443.90" cy="311.51" r="0.65" fill="#ff0000"/><circle cx="444.00" cy="315.76" r="0.65" fill="#ff0000"/><circle cx="443.72" cy="318.94" r="0.65" fill="#ff0000"/><circle cx="443.75" cy="323.19" r="0.65" fill="#ff0000"/><circle cx="444.08" cy="327.44" r="0.65" fill="#ff0000"/><circle cx="443.55" cy="330.63" r="0.65" fill="#ff0000"/><circle cx="443.88" cy="333.81" r="0.65" fill="#ff0000"/><circle cx="443.88" cy="337.00" r="0.65" fill="#ff0000"/><circle cx="443.52" cy="339.12" r="0.65" fill="#ff0000"/>
<path d="M481.18 253.06L483.28 253.06L482.23 254.95ZM482.36 253.20L484.46 253.20L483.41 255.09ZM483.50 253.41L485.60 253.41L484.55 255.30ZM481.39 254.70L483.49 254.70L482.44 256.59ZM483.58 255.06L485.68 255.06L484.63 256.95ZM481.47 256.47L483.57 256.47L482.52 258.36ZM483.03 256.71L485.13 256.71L484.08 258.60ZM481.56 258.02L483.66 258.02L482.61 259.91ZM483.09 258.28L485.19 258.28L484.14 260.17ZM481.53 259.69L483.63 259.69L482.58 261.58ZM483.23 259.20L485.33 259.20L484.28 261.09ZM481.47 260.81L483.57 260.81L482.52 262.70ZM482.92 260.94L485.02 260.94L483.97 262.83ZM481.49 263.08L483.59 263.08L482.54 264.97ZM483.40 262.92L485.50 262.92L484.45 264.81ZM481.53 264.58L483.63 264.58L482.58 266.47ZM483.36 264.38L485.46 264.38L484.41 266.27ZM481.20 265.60L483.30 265.60L482.25 267.49ZM483.57 266.16L485.67 266.16L484.62 268.05ZM481.73 267.67L483.83 267.67L482.78 269.56ZM483.03 267.55L485.13 267.55L484.08 269.44ZM481.64 269.61L483.74 269.61L482.69 271.50ZM483.20 268.80L485.30 268.80L484.25 270.69ZM481.65 271.19L483.75 271.19L482.70 273.08ZM482.76 270.72L484.86 270.72L483.81 272.61ZM481.81 272.39L483.91 272.39L482.86 274.28ZM482.95 272.55L485.05 272.55L484.00 274.44ZM481.23 273.57L483.33 273.57L482.28 275.46ZM482.86 274.44L484.96 274.44L483.91 276.33ZM481.35 275.18L483.45 275.18L482.40 277.07ZM482.91 275.83L485.01 275.83L483.96 277.72ZM481.77 277.41L483.87 277.41L482.82 279.30ZM483.28 276.84L485.38 276.84L484.33 278.73ZM481.43 279.21L483.53 279.21L482.48 281.10ZM483.56 279.01L485.66 279.01L484.61 280.90ZM481.73 280.70L483.83 280.70L482.78 282.59ZM482.94 280.62L485.04 280.62L483.99 282.51ZM481.58 281.62L483.68 281.62L482.63 283.51ZM483.17 281.96L485.27 281.96L484.22 283.85ZM481.90 283.75L484.00 283.75L482.95 285.64ZM482.47 285.62L484.57 285.62L483.52 287.51ZM482.11 287.24L484.21 287.24L483.16 289.13ZM482.75 288.85L484.85 288.85L483.80 290.74ZM482.40 290.37L484.50 290.37L483.45 292.26ZM482.81 291.89L484.91 291.89L483.86 293.78ZM481.80 293.29L483.90 293.29L482.85 295.18ZM482.97 295.10L485.07 295.10L484.02 296.99ZM482.67 296.69L484.77 296.69L483.72 298.58ZM482.47 298.07L484.57 298.07L483.52 299.96ZM482.35 299.38L484.45 299.38L483.40 301.27ZM482.32 301.00L484.42 301.00L483.37 302.89ZM482.35 303.09L484.45 303.09L483.40 304.98ZM482.36 304.76L484.46 304.76L483.41 306.65ZM482.11 305.74L484.21 305.74L483.16 307.63ZM482.60 307.53L484.70 307.53L483.65 309.42ZM482.35 309.10L484.45 309.10L483.40 310.99ZM477.05 252.00L479.15 252.00L478.10 253.89ZM478.56 252.21L480.66 252.21L479.61 254.10ZM480.08 252.27L482.18 252.27L481.13 254.16ZM481.59 252.02L483.69 252.02L482.64 253.91ZM483.11 252.19L485.21 252.19L484.16 254.08ZM484.62 252.09L486.72 252.09L485.67 253.98ZM486.14 252.16L488.24 252.16L487.19 254.05ZM487.65 251.96L489.75 251.96L488.70 253.85Z" fill="#0000ff" stroke="#0000ff" stroke-width="0.35" stroke-linejoin="round"/><circle cx="483.12" cy="314.70" r="0.65" fill="#0000ff"/><circle cx="483.69" cy="317.88" r="0.65" fill="#0000ff"/><circle cx="483.62" cy="321.07" r="0.65" fill="#0000ff"/><circle cx="483.39" cy="324.25" r="0.65" fill="#0000ff"/><circle cx="483.44" cy="327.44" r="0.65" fill="#0000ff"/><circle cx="483.26" cy="330.63" r="0.65" fill="#0000ff"/><circle cx="483.57" cy="333.81" r="0.65" fill="#0000ff"/><circle cx="483.36" cy="337.00" r="0.65" fill="#0000ff"/><circle cx="483.67" cy="340.18" r="0.65" fill="#0000ff"/><circle cx="483.56" cy="343.37" r="0.65" fill="#0000ff"/><circle cx="483.59" cy="346.56" r="0.65" fill="#0000ff"/><circle cx="483.68" cy="349.74" r="0.65" fill="#0000ff"/><circle cx="483.25" cy="351.87" r="0.65" fill="#0000ff"/>
<path d="M504.81 254.66L506.81 254.66L505.81 252.86ZM506.08 257.13L508.08 257.13L507.08 255.33ZM505.23 258.88L507.23 258.88L506.23 257.08ZM505.78 260.31L507.78 260.31L506.78 258.51ZM505.67 262.30L507.67 262.30L506.67 260.50ZM501.77 263.43L503.77 263.43L502.77 261.63ZM503.95 263.87L505.95 263.87L504.95 262.07ZM505.60 263.75L507.60 263.75L506.60 261.95ZM507.47 263.16L509.47 263.16L508.47 261.36ZM509.04 263.96L511.04 263.96L510.04 262.16ZM503.54 265.49L505.54 265.49L504.54 263.69ZM505.28 265.04L507.28 265.04L506.28 263.24ZM507.31 264.96L509.31 264.96L508.31 263.16ZM504.38 266.52L506.38 266.52L505.38 264.72ZM506.33 266.54L508.33 266.54L507.33 264.74ZM504.42 268.99L506.42 268.99L505.42 267.19ZM506.43 268.61L508.43 268.61L507.43 266.81ZM503.58 270.48L505.58 270.48L504.58 268.68ZM505.29 270.65L507.29 270.65L506.29 268.85ZM507.55 270.04L509.55 270.04L508.55 268.24ZM504.99 271.74L506.99 271.74L505.99 269.94ZM504.93 273.56L506.93 273.56L505.93 271.76ZM505.23 275.30L507.23 275.30L506.23 273.50ZM504.70 277.52L506.70 277.52L505.70 275.72ZM504.96 278.64L506.96 278.64L505.96 276.84ZM503.20 253.88L505.20 253.88L504.20 252.08ZM504.67 253.95L506.67 253.95L505.67 252.15ZM506.13 254.20L508.13 254.20L507.13 252.40ZM507.60 254.20L509.60 254.20L508.60 252.40ZM500.10 264.79L502.10 264.79L501.10 262.99ZM501.61 264.46L503.61 264.46L502.61 262.66ZM503.13 264.54L505.13 264.54L504.13 262.74ZM504.64 264.78L506.64 264.78L505.64 262.98ZM506.16 264.44L508.16 264.44L507.16 262.64ZM507.67 264.71L509.67 264.71L508.67 262.91ZM509.19 264.54L511.19 264.54L510.19 262.74ZM510.70 264.81L512.70 264.81L511.70 263.01ZM500.40 265.17L502.40 265.17L501.40 263.37ZM501.83 265.49L503.83 265.49L502.83 263.69ZM503.26 265.30L505.26 265.30L504.26 263.50ZM504.69 265.22L506.69 265.22L505.69 263.42ZM506.11 265.16L508.11 265.16L507.11 263.36ZM507.54 265.50L509.54 265.50L508.54 263.70ZM508.97 265.37L510.97 265.37L509.97 263.57ZM510.40 265.24L512.40 265.24L511.40 263.44Z" fill="#ff0000" stroke="#ff0000" stroke-width="0.35" stroke-linejoin="round"/><circle cx="506.36" cy="280.71" r="0.65" fill="#ff0000"/><circle cx="506.65" cy="282.84" r="0.65" fill="#ff0000"/><circle cx="506.23" cy="284.96" r="0.65" fill="#ff0000"/><circle cx="506.44" cy="287.08" r="0.65" fill="#ff0000"/><circle cx="506.18" cy="290.27" r="0.65" fill="#ff0000"/><circle cx="506.21" cy="293.46" r="0.65" fill="#ff0000"/><circle cx="506.56" cy="296.64" r="0.65" fill="#ff0000"/><circle cx="506.53" cy="299.83" r="0.65" fill="#ff0000"/><circle cx="506.22" cy="303.01" r="0.65" fill="#ff0000"/><circle cx="506.15" cy="306.20" r="0.65" fill="#ff0000"/><circle cx="506.15" cy="309.39" r="0.65" fill="#ff0000"/><circle cx="506.47" cy="313.63" r="0.65" fill="#ff0000"/><circle cx="506.40" cy="316.82" r="0.65" fill="#ff0000"/><circle cx="506.26" cy="320.01" r="0.65" fill="#ff0000"/><circle cx="506.22" cy="323.19" r="0.65" fill="#ff0000"/><circle cx="506.47" cy="327.44" r="0.65" fill="#ff0000"/><circle cx="506.52" cy="330.63" r="0.65" fill="#ff0000"/><circle cx="506.59" cy="334.87" r="0.65" fill="#ff0000"/><circle cx="506.45" cy="338.06" r="0.65" fill="#ff0000"/><circle cx="506.22" cy="342.31" r="0.65" fill="#ff0000"/><circle cx="506.14" cy="346.56" r="0.65" fill="#ff0000"/>
<path d="M408.0 247.3V359.3H520" fill="none" stroke="#000" stroke-width="1.4"/>
<path d="M403.4 359.30H408.0M405.6 353.99H408.0M405.6 348.68H408.0M405.6 343.37H408.0M405.6 338.06H408.0M405.6 332.75H408.0M405.6 327.44H408.0M405.6 322.13H408.0M405.6 316.82H408.0M405.6 311.51H408.0M403.4 306.20H408.0M405.6 300.89H408.0M405.6 295.58H408.0M405.6 290.27H408.0M405.6 284.96H408.0M405.6 279.65H408.0M405.6 274.34H408.0M405.6 269.03H408.0M405.6 263.72H408.0M405.6 258.41H408.0M403.4 253.10H408.0M421.1 359.3V363.9M443.8 359.3V363.9M483.4 359.3V363.9M506.4 359.3V363.9" stroke="#000" stroke-width="1.2" fill="none"/>
<text x="402.4" y="362.5" class="tk" text-anchor="end">0.0</text>
<text x="402.4" y="309.4" class="tk" text-anchor="end">0.5</text>
<text x="402.4" y="256.3" class="tk" text-anchor="end">1.0</text>
<text transform="translate(384.2 302.4) rotate(-90)" class="ax2" text-anchor="middle">Sensitivity / Specificity</text>
<text x="420.7" y="372.2" class="gl" text-anchor="middle">Single</text>
<text x="443.90000000000003" y="372.2" class="gl" text-anchor="middle">Multi</text>
<path d="M406.3 375.9V383.8H451.3V375.9" fill="none" stroke="#000" stroke-width="0.9" stroke-dasharray="1.6 1.1"/>
<text x="428.5" y="392.2" class="gs" text-anchor="middle">Sensitivity</text>
<text x="483.09999999999997" y="372.2" class="gl" text-anchor="middle">Single</text>
<text x="506.7" y="372.2" class="gl" text-anchor="middle">Multi</text>
<path d="M470.4 375.9V383.8H515.4V375.9" fill="none" stroke="#000" stroke-width="0.9" stroke-dasharray="1.6 1.1"/>
<text x="493.5" y="392.2" class="gs" text-anchor="middle">Specificity</text>
</svg></body></html>
